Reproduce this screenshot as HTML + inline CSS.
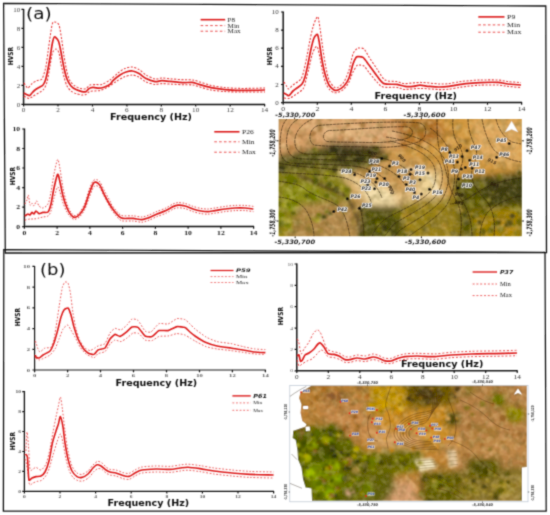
<!DOCTYPE html>
<html lang="en"><head><meta charset="utf-8"><title>HVSR curves</title>
<style>
html,body{margin:0;padding:0;background:#fff;}
body{width:550px;height:515px;overflow:hidden;font-family:"DejaVu Sans","Liberation Sans",sans-serif;}
svg{display:block;}
</style></head><body>
<svg width="550" height="515" viewBox="0 0 550 515">
<rect width="550" height="515" fill="#fff"/>

<defs>
<filter id="soft" x="0" y="0" width="550" height="515" filterUnits="userSpaceOnUse"><feConvolveMatrix order="3" kernelMatrix="1 4 1 4 16 4 1 4 1" divisor="36" edgeMode="duplicate" preserveAlpha="false"/></filter>
<filter id="sat" x="0" y="0" width="100%" height="100%"><feColorMatrix type="saturate" values="1.2"/></filter>
<filter id="bl1" x="-20%" y="-20%" width="140%" height="140%"><feGaussianBlur stdDeviation="0.9"/></filter>
<filter id="bl2" x="-20%" y="-20%" width="140%" height="140%"><feGaussianBlur stdDeviation="1.6"/></filter>
<filter id="bl4" x="-30%" y="-30%" width="160%" height="160%"><feGaussianBlur stdDeviation="3.5"/></filter>
<filter id="bl7" x="-40%" y="-40%" width="180%" height="180%"><feGaussianBlur stdDeviation="6"/></filter>
<filter id="noiseA" x="0" y="0" width="100%" height="100%">
<feTurbulence type="fractalNoise" baseFrequency="0.13" numOctaves="2" seed="7" result="n"/>
<feColorMatrix in="n" type="matrix" values="0 0 0 0 0.13  0 0 0 0 0.1  0 0 0 0 0.03  3 0 0 0 -1.25"/>
</filter>
<filter id="noiseB" x="0" y="0" width="100%" height="100%">
<feTurbulence type="fractalNoise" baseFrequency="0.16" numOctaves="2" seed="23" result="n"/>
<feColorMatrix in="n" type="matrix" values="0 0 0 0 1  0 0 0 0 0.84  0 0 0 0 0.5  0 3 0 0 -1.3"/>
</filter>
<filter id="noiseG" x="0" y="0" width="100%" height="100%">
<feTurbulence type="fractalNoise" baseFrequency="0.3" numOctaves="2" seed="11" result="n"/>
<feColorMatrix in="n" type="matrix" values="0 0 0 0 0.1  0 0 0 0 0.11  0 0 0 0 0.02  0 0 4 0 -1.7"/>
</filter>
<clipPath id="clipA"><rect x="278.6" y="119.1" width="243.2" height="117.2"/></clipPath>
<clipPath id="clipB"><path d="M311.2,385.7L526.8,385.7L526.8,467L522,467.4L522,500.8L312,500.8L311.4,488.4L305.5,487.5L303,479.3L301.4,467.8L298,459.6L297.3,449.8L295.6,440L292.6,438L293.2,430.7L305.5,426.6L306.3,424.2L302.2,421L300.5,412.7L301.4,404.5L299,398L300.5,392.3Z"/></clipPath>
</defs>

<g id="all" filter="url(#soft)">
<g id="mapA">
<g clip-path="url(#clipA)"><g filter="url(#sat)">
<rect x="278" y="119" width="245" height="118" fill="#c4955a"/>
<g filter="url(#bl4)">
<path d="M270,112H405V150L360,146L325,152L295,166L270,168Z" fill="#cfa074"/>
<path d="M300,124C330,118 380,122 400,132L400,146L330,142Z" fill="#dab088"/>
<path d="M400,112H530V178L470,172L440,165L405,160Z" fill="#ca9a5a"/>
<path d="M398,118L440,118L446,138L420,146L398,140Z" fill="#a87040"/>
<path d="M470,120L521,120L521,168L480,160Z" fill="#d8aa72"/>
<path d="M272,158C300,150 330,140 380,146L392,160L350,172L300,174L272,176Z" fill="#55532a"/>
<path d="M322,146C340,140 372,144 384,152L380,162L340,164Z" fill="#34321a"/>
<path d="M270,170L340,170L352,196L335,214L300,226L270,240Z" fill="#85803a"/>
<path d="M282,188L310,182L326,198L300,214L280,215Z" fill="#8f9040"/>
<path d="M270,215L300,212L296,240L270,240Z" fill="#94883e"/>
<path d="M340,170L360,174L380,186L402,192L420,170L442,168L444,198L424,204L386,207L362,202L350,188Z" fill="#dcbc8c"/>
<path d="M360,184L388,186L398,203L368,205Z" fill="#f2e0b8"/>
<path d="M372,158L420,158L422,186L396,188L378,178Z" fill="#c49a66"/>
<path d="M416,172L438,172L440,196L420,196Z" fill="#ecd4a4"/>
<path d="M300,204L360,200L364,240L286,240Z" fill="#a88656"/>
<path d="M318,212L350,208L352,232L316,236Z" fill="#b08c5e"/>
<path d="M360,206L402,206L414,240L358,240Z" fill="#4e4d22"/>
<path d="M402,202L462,196L472,240L404,240Z" fill="#94803a"/>
<path d="M452,180L530,170V240H462Z" fill="#5a5828"/>
<path d="M478,176L530,172L530,204L486,204Z" fill="#3b3a1b"/>
<path d="M470,212L521,208L521,240L476,240Z" fill="#a08438"/>
</g>
<g filter="url(#bl2)">
<path d="M298,175L346,196" stroke="#46341e" stroke-width="3" fill="none" opacity=".85"/>
<path d="M338,171L372,190" stroke="#e6cfa2" stroke-width="4" fill="none" opacity=".8"/>
<path d="M345,196C352,204 358,214 362,236" stroke="#4e3e26" stroke-width="2.8" fill="none" opacity=".8"/>
<path d="M402,170C420,166 436,176 438,196" stroke="#fff6e0" stroke-width="2.2" fill="none" opacity=".8"/>
<ellipse cx="336" cy="150" rx="7" ry="4" fill="#34331a"/>
<ellipse cx="358" cy="157" rx="6" ry="4" fill="#38361c"/>
<ellipse cx="372" cy="151" rx="5" ry="3.4" fill="#3a381c"/>
<ellipse cx="290" cy="180" rx="6" ry="5" fill="#6a7228"/>
<ellipse cx="312" cy="196" rx="7" ry="5" fill="#727a2c"/>
<ellipse cx="286" cy="222" rx="6" ry="6" fill="#a09a48"/>
<ellipse cx="380" cy="222" rx="9" ry="8" fill="#4a4a1e"/>
<ellipse cx="397" cy="214" rx="5" ry="5" fill="#6e6a2c"/>
<ellipse cx="500" cy="188" rx="12" ry="7" fill="#3c3a1a"/>
<ellipse cx="472" cy="200" rx="9" ry="6" fill="#54521f"/>
<ellipse cx="505" cy="226" rx="12" ry="7" fill="#b08a40"/>
<ellipse cx="440" cy="222" rx="10" ry="7" fill="#8e7c3c"/>
<ellipse cx="420" cy="128" rx="10" ry="5" fill="#94703c"/>
<ellipse cx="455" cy="140" rx="10" ry="6" fill="#d0a064"/>
<ellipse cx="345" cy="131" rx="18" ry="4" fill="#dcb48a"/>
</g>
<g filter="url(#bl1)" opacity=".85">
<ellipse cx="287.9" cy="225.3" rx="3.1" ry="2.5" fill="#6e742c"/><ellipse cx="334.3" cy="199.1" rx="2.4" ry="1.8" fill="#6e742c"/><ellipse cx="280.1" cy="224.5" rx="2.5" ry="2.5" fill="#4e5220"/><ellipse cx="329.5" cy="184.6" rx="3.2" ry="3.0" fill="#4e5220"/><ellipse cx="279.9" cy="203.9" rx="3.5" ry="3.0" fill="#5c6426"/><ellipse cx="317.0" cy="219.5" rx="3.5" ry="3.2" fill="#a4a04a"/><ellipse cx="295.1" cy="181.3" rx="2.5" ry="2.1" fill="#4e5220"/><ellipse cx="324.6" cy="216.7" rx="2.2" ry="2.2" fill="#3e421a"/><ellipse cx="313.5" cy="218.1" rx="2.4" ry="2.3" fill="#a4a04a"/><ellipse cx="318.6" cy="215.2" rx="2.9" ry="2.5" fill="#6e742c"/><ellipse cx="327.1" cy="173.6" rx="1.9" ry="2.0" fill="#a4a04a"/><ellipse cx="281.2" cy="215.2" rx="3.6" ry="3.3" fill="#6e742c"/><ellipse cx="325.9" cy="177.8" rx="2.1" ry="1.4" fill="#5c6426"/><ellipse cx="295.2" cy="202.0" rx="3.5" ry="3.3" fill="#6e742c"/><ellipse cx="323.1" cy="217.1" rx="2.4" ry="2.5" fill="#3e421a"/><ellipse cx="315.9" cy="175.0" rx="3.2" ry="2.5" fill="#4e5220"/><ellipse cx="313.6" cy="191.5" rx="2.7" ry="2.9" fill="#6e742c"/><ellipse cx="313.9" cy="191.0" rx="2.3" ry="2.1" fill="#93984a"/><ellipse cx="336.2" cy="189.2" rx="2.8" ry="2.9" fill="#3e421a"/><ellipse cx="291.1" cy="206.9" rx="3.3" ry="3.4" fill="#7c8434"/><ellipse cx="280.4" cy="232.0" rx="1.7" ry="1.8" fill="#6e742c"/><ellipse cx="279.1" cy="218.9" rx="2.1" ry="1.6" fill="#93984a"/><ellipse cx="291.7" cy="186.3" rx="1.9" ry="1.6" fill="#5c6426"/><ellipse cx="326.6" cy="211.4" rx="2.2" ry="2.1" fill="#6e742c"/><ellipse cx="306.6" cy="195.5" rx="2.0" ry="1.5" fill="#3e421a"/><ellipse cx="315.7" cy="180.6" rx="2.8" ry="2.9" fill="#4e5220"/><ellipse cx="294.7" cy="193.8" rx="1.7" ry="1.8" fill="#6e742c"/><ellipse cx="330.1" cy="213.5" rx="2.7" ry="2.1" fill="#3e421a"/><ellipse cx="337.0" cy="202.2" rx="2.0" ry="2.0" fill="#6e742c"/><ellipse cx="326.8" cy="195.8" rx="3.1" ry="2.3" fill="#5c6426"/><ellipse cx="342.8" cy="187.4" rx="3.3" ry="2.7" fill="#a4a04a"/><ellipse cx="333.0" cy="195.1" rx="2.1" ry="1.5" fill="#7c8434"/><ellipse cx="280.8" cy="223.4" rx="3.5" ry="3.3" fill="#5c6426"/><ellipse cx="335.7" cy="209.6" rx="1.7" ry="1.3" fill="#4e5220"/><ellipse cx="293.2" cy="213.2" rx="2.5" ry="1.9" fill="#4e5220"/><ellipse cx="347.4" cy="193.3" rx="2.6" ry="1.8" fill="#93984a"/><ellipse cx="279.3" cy="180.1" rx="2.3" ry="2.5" fill="#7c8434"/><ellipse cx="288.0" cy="196.0" rx="2.1" ry="1.6" fill="#6e742c"/><ellipse cx="347.0" cy="190.1" rx="3.4" ry="3.3" fill="#6e742c"/><ellipse cx="334.8" cy="203.3" rx="1.7" ry="1.2" fill="#5c6426"/><ellipse cx="290.6" cy="229.8" rx="2.0" ry="2.0" fill="#93984a"/><ellipse cx="315.4" cy="183.9" rx="2.3" ry="1.7" fill="#5c6426"/><ellipse cx="288.0" cy="204.6" rx="1.8" ry="1.3" fill="#4e5220"/><ellipse cx="288.9" cy="174.8" rx="1.8" ry="1.7" fill="#6e742c"/><ellipse cx="283.7" cy="204.5" rx="2.7" ry="3.0" fill="#a4a04a"/><ellipse cx="346.5" cy="198.0" rx="2.2" ry="2.2" fill="#7c8434"/>
<ellipse cx="353.3" cy="154.9" rx="2.8" ry="2.7" fill="#585626"/><ellipse cx="349.9" cy="169.3" rx="3.3" ry="3.0" fill="#6a682e"/><ellipse cx="339.4" cy="158.9" rx="2.1" ry="1.5" fill="#34321a"/><ellipse cx="379.8" cy="158.3" rx="3.4" ry="2.6" fill="#45441f"/><ellipse cx="315.1" cy="150.0" rx="2.6" ry="2.9" fill="#7a7434"/><ellipse cx="328.5" cy="158.0" rx="2.7" ry="2.8" fill="#6a682e"/><ellipse cx="366.7" cy="156.3" rx="3.6" ry="3.9" fill="#45441f"/><ellipse cx="385.0" cy="157.6" rx="3.1" ry="3.0" fill="#45441f"/><ellipse cx="334.6" cy="170.1" rx="2.3" ry="2.4" fill="#2c2a16"/><ellipse cx="317.9" cy="167.1" rx="2.7" ry="2.4" fill="#7a7434"/><ellipse cx="303.6" cy="155.4" rx="3.0" ry="2.3" fill="#585626"/><ellipse cx="308.8" cy="172.4" rx="2.2" ry="2.4" fill="#7a7434"/><ellipse cx="371.2" cy="162.3" rx="2.6" ry="2.5" fill="#2c2a16"/><ellipse cx="313.6" cy="152.0" rx="2.6" ry="2.8" fill="#585626"/><ellipse cx="290.8" cy="162.7" rx="1.7" ry="1.6" fill="#7a7434"/><ellipse cx="376.2" cy="149.1" rx="2.6" ry="2.8" fill="#45441f"/><ellipse cx="285.7" cy="172.0" rx="3.1" ry="2.3" fill="#6a682e"/><ellipse cx="298.1" cy="165.5" rx="1.8" ry="1.9" fill="#34321a"/><ellipse cx="283.5" cy="172.6" rx="2.3" ry="1.8" fill="#45441f"/><ellipse cx="360.6" cy="161.2" rx="1.6" ry="1.5" fill="#45441f"/><ellipse cx="317.2" cy="163.8" rx="3.1" ry="2.3" fill="#6a682e"/><ellipse cx="333.3" cy="154.9" rx="2.7" ry="2.5" fill="#34321a"/><ellipse cx="331.5" cy="152.5" rx="2.9" ry="2.4" fill="#34321a"/><ellipse cx="281.7" cy="168.9" rx="3.5" ry="3.2" fill="#2c2a16"/><ellipse cx="333.0" cy="155.5" rx="3.3" ry="2.8" fill="#6a682e"/><ellipse cx="346.3" cy="158.2" rx="1.6" ry="1.5" fill="#45441f"/><ellipse cx="353.4" cy="153.3" rx="1.9" ry="1.4" fill="#2c2a16"/><ellipse cx="349.5" cy="160.7" rx="3.6" ry="3.8" fill="#45441f"/><ellipse cx="304.8" cy="158.9" rx="2.1" ry="2.0" fill="#585626"/><ellipse cx="366.9" cy="164.1" rx="2.3" ry="2.3" fill="#6a682e"/><ellipse cx="282.9" cy="157.9" rx="1.8" ry="1.8" fill="#45441f"/><ellipse cx="362.3" cy="149.1" rx="1.6" ry="1.6" fill="#2c2a16"/><ellipse cx="313.4" cy="164.6" rx="2.0" ry="2.2" fill="#45441f"/><ellipse cx="359.9" cy="158.6" rx="2.6" ry="2.4" fill="#34321a"/>
<ellipse cx="369.8" cy="222.3" rx="2.3" ry="2.2" fill="#62622a"/><ellipse cx="404.6" cy="213.8" rx="2.1" ry="2.3" fill="#2e2e14"/><ellipse cx="387.4" cy="222.5" rx="2.4" ry="2.5" fill="#4c4c20"/><ellipse cx="392.8" cy="232.0" rx="2.6" ry="2.6" fill="#3a3a18"/><ellipse cx="365.2" cy="234.7" rx="1.7" ry="1.7" fill="#76742e"/><ellipse cx="383.4" cy="227.6" rx="3.4" ry="3.3" fill="#2e2e14"/><ellipse cx="378.9" cy="230.0" rx="2.5" ry="2.7" fill="#76742e"/><ellipse cx="361.7" cy="210.1" rx="2.0" ry="2.2" fill="#2e2e14"/><ellipse cx="401.2" cy="231.7" rx="2.4" ry="2.5" fill="#62622a"/><ellipse cx="376.4" cy="223.6" rx="2.8" ry="2.9" fill="#3a3a18"/><ellipse cx="405.7" cy="235.7" rx="2.9" ry="2.3" fill="#76742e"/><ellipse cx="411.9" cy="233.1" rx="2.7" ry="2.7" fill="#4c4c20"/><ellipse cx="392.7" cy="235.6" rx="2.1" ry="1.6" fill="#2e2e14"/><ellipse cx="405.5" cy="235.7" rx="1.8" ry="1.8" fill="#2e2e14"/><ellipse cx="380.8" cy="218.5" rx="1.8" ry="1.7" fill="#3a3a18"/><ellipse cx="377.9" cy="223.6" rx="2.7" ry="2.9" fill="#76742e"/><ellipse cx="385.3" cy="236.0" rx="2.2" ry="1.6" fill="#62622a"/><ellipse cx="387.1" cy="234.5" rx="3.5" ry="2.9" fill="#76742e"/><ellipse cx="365.1" cy="207.3" rx="3.3" ry="2.8" fill="#4c4c20"/><ellipse cx="382.7" cy="221.6" rx="2.9" ry="2.7" fill="#62622a"/><ellipse cx="361.9" cy="235.2" rx="3.2" ry="2.6" fill="#4c4c20"/><ellipse cx="371.0" cy="215.1" rx="2.3" ry="2.3" fill="#62622a"/>
<ellipse cx="480.5" cy="181.9" rx="1.7" ry="1.5" fill="#7c7634"/><ellipse cx="507.6" cy="221.0" rx="2.0" ry="1.9" fill="#7c7634"/><ellipse cx="506.2" cy="224.9" rx="2.1" ry="2.3" fill="#3a3a18"/><ellipse cx="509.5" cy="223.6" rx="3.2" ry="2.5" fill="#7c7634"/><ellipse cx="473.4" cy="227.5" rx="3.5" ry="3.7" fill="#7c7634"/><ellipse cx="459.8" cy="210.8" rx="2.9" ry="2.7" fill="#4c4a20"/><ellipse cx="470.6" cy="189.9" rx="3.5" ry="3.6" fill="#626028"/><ellipse cx="473.6" cy="217.1" rx="2.2" ry="2.2" fill="#4c4a20"/><ellipse cx="481.7" cy="210.3" rx="2.5" ry="1.9" fill="#7c7634"/><ellipse cx="471.4" cy="223.0" rx="1.8" ry="1.6" fill="#7c7634"/><ellipse cx="488.8" cy="213.5" rx="3.0" ry="2.3" fill="#8a8440"/><ellipse cx="467.1" cy="198.4" rx="2.0" ry="1.9" fill="#7c7634"/><ellipse cx="466.3" cy="199.9" rx="2.8" ry="2.6" fill="#4c4a20"/><ellipse cx="514.6" cy="178.5" rx="1.7" ry="1.4" fill="#55531f"/><ellipse cx="493.0" cy="227.2" rx="1.8" ry="2.0" fill="#7c7634"/><ellipse cx="500.7" cy="229.3" rx="3.5" ry="3.5" fill="#7c7634"/><ellipse cx="518.7" cy="221.6" rx="2.4" ry="2.6" fill="#626028"/><ellipse cx="499.6" cy="177.0" rx="2.8" ry="3.0" fill="#7c7634"/><ellipse cx="463.1" cy="196.4" rx="3.5" ry="2.9" fill="#3a3a18"/><ellipse cx="478.3" cy="201.1" rx="2.3" ry="2.4" fill="#7c7634"/><ellipse cx="492.3" cy="200.1" rx="2.0" ry="2.1" fill="#3a3a18"/><ellipse cx="465.3" cy="215.3" rx="1.9" ry="1.4" fill="#2c2c14"/><ellipse cx="493.0" cy="192.6" rx="1.7" ry="1.7" fill="#7c7634"/><ellipse cx="505.8" cy="198.2" rx="3.6" ry="3.2" fill="#4c4a20"/><ellipse cx="483.4" cy="203.5" rx="2.0" ry="1.8" fill="#8a8440"/><ellipse cx="513.6" cy="225.2" rx="2.6" ry="1.9" fill="#7c7634"/><ellipse cx="471.0" cy="205.6" rx="3.1" ry="2.7" fill="#7c7634"/><ellipse cx="516.2" cy="208.2" rx="3.6" ry="3.1" fill="#8a8440"/><ellipse cx="497.8" cy="222.6" rx="3.1" ry="2.8" fill="#3a3a18"/><ellipse cx="482.8" cy="231.5" rx="2.7" ry="3.0" fill="#4c4a20"/><ellipse cx="476.6" cy="214.0" rx="3.2" ry="3.1" fill="#55531f"/><ellipse cx="482.1" cy="185.8" rx="3.2" ry="3.3" fill="#7c7634"/><ellipse cx="515.8" cy="233.2" rx="1.7" ry="1.9" fill="#8a8440"/><ellipse cx="514.2" cy="180.2" rx="3.5" ry="3.4" fill="#3a3a18"/><ellipse cx="512.3" cy="216.0" rx="2.5" ry="2.2" fill="#2c2c14"/><ellipse cx="516.1" cy="186.0" rx="1.6" ry="1.7" fill="#3a3a18"/><ellipse cx="494.9" cy="188.5" rx="2.4" ry="2.4" fill="#2c2c14"/><ellipse cx="512.8" cy="207.2" rx="3.4" ry="2.6" fill="#8a8440"/><ellipse cx="494.8" cy="224.4" rx="2.7" ry="2.8" fill="#626028"/><ellipse cx="500.6" cy="179.2" rx="2.7" ry="2.2" fill="#55531f"/><ellipse cx="463.3" cy="195.2" rx="3.1" ry="2.9" fill="#3a3a18"/><ellipse cx="473.9" cy="194.2" rx="1.7" ry="1.9" fill="#2c2c14"/><ellipse cx="479.5" cy="222.4" rx="2.2" ry="1.8" fill="#2c2c14"/><ellipse cx="511.3" cy="197.6" rx="1.8" ry="1.9" fill="#55531f"/><ellipse cx="513.3" cy="204.8" rx="2.5" ry="2.6" fill="#55531f"/><ellipse cx="483.8" cy="212.2" rx="3.5" ry="3.3" fill="#55531f"/><ellipse cx="486.1" cy="179.6" rx="2.7" ry="2.3" fill="#4c4a20"/><ellipse cx="465.8" cy="181.6" rx="2.6" ry="2.2" fill="#626028"/><ellipse cx="519.2" cy="172.3" rx="1.9" ry="1.9" fill="#3a3a18"/><ellipse cx="490.5" cy="203.1" rx="3.0" ry="2.7" fill="#3a3a18"/><ellipse cx="488.9" cy="198.3" rx="2.2" ry="1.7" fill="#4c4a20"/><ellipse cx="520.0" cy="212.1" rx="3.0" ry="2.8" fill="#7c7634"/><ellipse cx="490.5" cy="230.2" rx="3.2" ry="2.9" fill="#55531f"/><ellipse cx="487.9" cy="200.2" rx="2.8" ry="2.4" fill="#7c7634"/><ellipse cx="505.7" cy="195.2" rx="2.9" ry="2.2" fill="#3a3a18"/><ellipse cx="494.6" cy="215.2" rx="2.8" ry="2.3" fill="#7c7634"/><ellipse cx="467.2" cy="222.8" rx="2.9" ry="3.1" fill="#3a3a18"/><ellipse cx="481.0" cy="231.9" rx="2.0" ry="1.9" fill="#7c7634"/><ellipse cx="465.7" cy="228.5" rx="2.8" ry="2.6" fill="#55531f"/><ellipse cx="509.6" cy="223.3" rx="3.2" ry="3.5" fill="#4c4a20"/>
<ellipse cx="444.4" cy="226.2" rx="3.2" ry="3.4" fill="#a88a4a"/><ellipse cx="404.0" cy="215.7" rx="3.5" ry="3.3" fill="#b0944c"/><ellipse cx="409.7" cy="215.8" rx="2.1" ry="1.9" fill="#a88a4a"/><ellipse cx="419.0" cy="225.8" rx="2.4" ry="1.9" fill="#8e7e3e"/><ellipse cx="412.9" cy="228.3" rx="1.9" ry="1.8" fill="#b0944c"/><ellipse cx="411.0" cy="234.9" rx="1.6" ry="1.6" fill="#b0944c"/><ellipse cx="461.3" cy="209.0" rx="3.5" ry="3.2" fill="#b0944c"/><ellipse cx="414.4" cy="234.8" rx="2.0" ry="2.2" fill="#8e7e3e"/><ellipse cx="422.3" cy="211.7" rx="1.9" ry="1.5" fill="#7a6c34"/><ellipse cx="424.6" cy="229.1" rx="2.8" ry="2.6" fill="#6a6230"/><ellipse cx="406.5" cy="211.5" rx="2.2" ry="2.2" fill="#b0944c"/><ellipse cx="434.7" cy="224.8" rx="1.7" ry="1.9" fill="#7a6c34"/><ellipse cx="429.5" cy="218.9" rx="2.4" ry="2.1" fill="#7a6c34"/><ellipse cx="432.8" cy="224.9" rx="2.8" ry="3.1" fill="#7a6c34"/><ellipse cx="453.4" cy="233.3" rx="3.5" ry="2.9" fill="#6a6230"/><ellipse cx="462.7" cy="207.5" rx="2.5" ry="2.4" fill="#6a6230"/><ellipse cx="460.5" cy="199.4" rx="3.5" ry="2.6" fill="#6a6230"/><ellipse cx="436.9" cy="211.8" rx="1.9" ry="1.5" fill="#a88a4a"/><ellipse cx="408.3" cy="224.1" rx="2.2" ry="2.3" fill="#b0944c"/><ellipse cx="451.0" cy="209.8" rx="2.6" ry="2.5" fill="#7a6c34"/><ellipse cx="429.6" cy="207.0" rx="2.8" ry="2.9" fill="#8e7e3e"/><ellipse cx="446.3" cy="203.5" rx="3.6" ry="3.4" fill="#8e7e3e"/><ellipse cx="424.7" cy="205.9" rx="3.6" ry="3.3" fill="#b0944c"/><ellipse cx="444.9" cy="227.9" rx="1.8" ry="1.6" fill="#b0944c"/><ellipse cx="406.0" cy="214.0" rx="1.9" ry="2.0" fill="#a88a4a"/><ellipse cx="460.0" cy="235.1" rx="2.5" ry="2.2" fill="#6a6230"/>
<ellipse cx="345.1" cy="229.9" rx="2.6" ry="2.1" fill="#9a7a4c"/><ellipse cx="298.5" cy="221.9" rx="3.5" ry="3.5" fill="#8c7844"/><ellipse cx="343.5" cy="211.3" rx="3.2" ry="3.2" fill="#a0884e"/><ellipse cx="353.6" cy="220.3" rx="1.8" ry="1.7" fill="#8c7844"/><ellipse cx="335.7" cy="222.7" rx="1.8" ry="1.5" fill="#9a7a4c"/><ellipse cx="314.1" cy="215.9" rx="2.1" ry="2.1" fill="#b89460"/><ellipse cx="338.5" cy="229.1" rx="1.8" ry="1.3" fill="#b89460"/><ellipse cx="347.6" cy="233.0" rx="2.6" ry="2.7" fill="#b89460"/><ellipse cx="325.1" cy="223.9" rx="3.0" ry="3.1" fill="#9a7a4c"/><ellipse cx="333.6" cy="210.3" rx="2.5" ry="2.1" fill="#9a7a4c"/><ellipse cx="294.5" cy="231.9" rx="2.7" ry="2.0" fill="#8c7844"/><ellipse cx="310.5" cy="208.7" rx="2.6" ry="1.9" fill="#b89460"/><ellipse cx="348.0" cy="231.8" rx="2.6" ry="2.1" fill="#b89460"/><ellipse cx="353.1" cy="223.1" rx="2.2" ry="1.9" fill="#a0884e"/><ellipse cx="308.8" cy="225.1" rx="2.6" ry="2.0" fill="#a0884e"/><ellipse cx="346.0" cy="205.0" rx="2.8" ry="2.9" fill="#a0884e"/><ellipse cx="320.2" cy="230.3" rx="3.2" ry="2.9" fill="#a0884e"/><ellipse cx="309.8" cy="229.8" rx="3.5" ry="2.7" fill="#8c7844"/><ellipse cx="320.5" cy="226.6" rx="3.5" ry="2.5" fill="#9a7a4c"/><ellipse cx="306.1" cy="229.3" rx="2.0" ry="1.8" fill="#8c7844"/><ellipse cx="354.8" cy="210.7" rx="2.4" ry="2.5" fill="#a0884e"/><ellipse cx="307.3" cy="218.1" rx="2.6" ry="1.9" fill="#a0884e"/>
<ellipse cx="421.3" cy="125.9" rx="2.9" ry="2.1" fill="#dcb07c"/><ellipse cx="404.8" cy="145.8" rx="3.4" ry="2.7" fill="#b07c48"/><ellipse cx="429.2" cy="122.2" rx="1.8" ry="1.5" fill="#dcb07c"/><ellipse cx="406.9" cy="129.3" rx="2.9" ry="3.1" fill="#dcb07c"/><ellipse cx="440.2" cy="121.3" rx="2.0" ry="1.9" fill="#d8a86c"/><ellipse cx="418.9" cy="125.6" rx="1.8" ry="1.5" fill="#94703e"/><ellipse cx="411.0" cy="145.8" rx="2.9" ry="2.4" fill="#dcb07c"/><ellipse cx="449.3" cy="145.0" rx="2.8" ry="2.6" fill="#dcb07c"/><ellipse cx="428.8" cy="133.5" rx="2.8" ry="2.4" fill="#a06e40"/><ellipse cx="415.9" cy="127.3" rx="3.2" ry="2.3" fill="#a06e40"/><ellipse cx="450.5" cy="132.2" rx="3.6" ry="2.7" fill="#c48e54"/><ellipse cx="409.9" cy="134.7" rx="3.5" ry="3.0" fill="#94703e"/><ellipse cx="403.6" cy="144.7" rx="3.2" ry="3.3" fill="#a06e40"/><ellipse cx="448.1" cy="146.3" rx="2.8" ry="2.4" fill="#b07c48"/><ellipse cx="466.0" cy="140.8" rx="2.9" ry="2.1" fill="#94703e"/><ellipse cx="420.3" cy="145.6" rx="3.0" ry="2.6" fill="#94703e"/><ellipse cx="425.8" cy="149.8" rx="1.6" ry="1.5" fill="#d8a86c"/><ellipse cx="442.0" cy="141.7" rx="2.0" ry="1.7" fill="#94703e"/><ellipse cx="415.8" cy="137.0" rx="3.3" ry="2.4" fill="#c48e54"/><ellipse cx="426.9" cy="131.8" rx="1.9" ry="1.6" fill="#dcb07c"/><ellipse cx="418.0" cy="138.1" rx="2.3" ry="2.4" fill="#d8a86c"/><ellipse cx="408.9" cy="127.1" rx="2.1" ry="1.6" fill="#c48e54"/><ellipse cx="457.8" cy="127.4" rx="2.2" ry="1.6" fill="#dcb07c"/><ellipse cx="424.6" cy="145.1" rx="3.5" ry="3.4" fill="#dcb07c"/><ellipse cx="466.4" cy="149.1" rx="3.1" ry="2.7" fill="#94703e"/><ellipse cx="455.4" cy="137.0" rx="2.4" ry="1.8" fill="#94703e"/><ellipse cx="426.8" cy="127.8" rx="3.6" ry="3.1" fill="#b07c48"/><ellipse cx="422.5" cy="121.4" rx="1.6" ry="1.2" fill="#b07c48"/><ellipse cx="466.3" cy="147.2" rx="1.7" ry="1.4" fill="#c48e54"/><ellipse cx="408.7" cy="130.6" rx="2.3" ry="1.9" fill="#b07c48"/>
<ellipse cx="294.0" cy="147.9" rx="1.8" ry="1.4" fill="#d8ae84"/><ellipse cx="326.7" cy="120.2" rx="2.6" ry="2.2" fill="#d8ae84"/><ellipse cx="385.8" cy="135.5" rx="2.6" ry="2.6" fill="#c49268"/><ellipse cx="340.9" cy="138.4" rx="3.4" ry="3.4" fill="#c49268"/><ellipse cx="290.6" cy="152.4" rx="2.4" ry="2.4" fill="#b88458"/><ellipse cx="357.6" cy="132.9" rx="3.0" ry="2.7" fill="#d8ae84"/><ellipse cx="348.2" cy="124.8" rx="1.7" ry="1.9" fill="#a87a50"/><ellipse cx="362.5" cy="125.1" rx="3.3" ry="2.9" fill="#a87a50"/><ellipse cx="313.0" cy="133.6" rx="3.4" ry="2.5" fill="#b88458"/><ellipse cx="342.3" cy="131.9" rx="2.3" ry="2.2" fill="#a87a50"/><ellipse cx="338.9" cy="127.1" rx="1.9" ry="1.7" fill="#b88458"/><ellipse cx="387.7" cy="141.3" rx="2.3" ry="2.4" fill="#c49268"/><ellipse cx="319.8" cy="129.9" rx="2.4" ry="2.1" fill="#a87a50"/><ellipse cx="299.9" cy="135.2" rx="1.9" ry="1.9" fill="#b88458"/><ellipse cx="303.0" cy="150.4" rx="2.2" ry="1.6" fill="#a87a50"/><ellipse cx="319.7" cy="126.0" rx="2.5" ry="2.0" fill="#a87a50"/><ellipse cx="346.1" cy="135.7" rx="1.8" ry="1.3" fill="#b88458"/><ellipse cx="283.0" cy="146.2" rx="3.1" ry="2.8" fill="#d8ae84"/><ellipse cx="375.1" cy="139.7" rx="3.0" ry="3.3" fill="#b88458"/><ellipse cx="319.6" cy="146.0" rx="1.8" ry="1.5" fill="#c49268"/><ellipse cx="393.8" cy="119.1" rx="3.3" ry="2.6" fill="#b88458"/><ellipse cx="299.5" cy="132.8" rx="2.5" ry="1.8" fill="#d8ae84"/><ellipse cx="351.0" cy="139.4" rx="2.5" ry="1.9" fill="#b88458"/><ellipse cx="291.9" cy="148.6" rx="2.9" ry="2.9" fill="#b88458"/><ellipse cx="364.1" cy="138.3" rx="2.4" ry="2.0" fill="#d8ae84"/><ellipse cx="285.1" cy="121.0" rx="1.8" ry="1.4" fill="#b88458"/>
</g>
<rect x="278" y="119" width="245" height="118" filter="url(#noiseA)" opacity=".3"/>
<rect x="278" y="119" width="245" height="118" filter="url(#noiseB)" opacity=".2"/>
<g fill="none" stroke="#2a1c0e" stroke-width=".9" opacity=".72" stroke-dasharray="3 .6">
<path d="M329,130.5C322,132 322,140 327,141.5C340,142.5 355,142 366,142.5C380,143 396,142 408,138C414,135 414,129 408,127C395,125.6 350,130 329,130.5"/>
<path d="M318,125.5C308,129 308,142 314,145C330,147 350,146.4 366,147C384,148 404,147 418,142C428,138 428,126 420,123C400,120.6 340,123.6 318,125.5"/>
<path d="M312.6,119C302,124 296,130 294.8,140C294.6,150 299,153 306,154C325,155 350,154 372,156C392,159 404,166 414,176"/>
<path d="M298,119C290,124 286.8,130 286.5,142C287,153 291,157.5 298,158.6C320,160 345,159.4 366,162C386,166 398,174 406,186"/>
<path d="M287,119C281.6,124 280.2,134 280,146C280.4,156 283,161.6 290,163C312,164.6 340,164 360,167C378,171 388,180 394,192"/>
<path d="M278,163C295,167 330,168 352,172C368,176 378,186 382,198"/>
<path d="M278,172C300,174 325,174 345,178C360,183 370,193 372,206"/>
<path d="M278,181C290,183 300,184 306,190C318,198 330,200 338,206C346,214 348,226 350,237"/>
<path d="M278,197C290,198 300,202 306,210C312,220 314,230 314,237"/>
<path d="M390,141C410,146 425,152 433,164C438,174 436,186 428,194C418,203 402,210 390,216C380,222 374,230 372,237"/>
<path d="M386,137C412,141 430,148 439,162C445,174 443,188 434,198C424,208 406,216 394,224L384,237"/>
<path d="M392,131C416,136 436,143 445,160C451,174 449,190 440,202C430,213 412,222 400,230L394,237"/>
<path d="M430,128C442,136 448,146 452,158C457,174 455,192 446,206C437,218 420,228 408,237"/>
<path d="M437,119C437,130 437,140 440,152C443,162 446,170 448,180C450,190 454,196 458,204C462,214 462,226 460,237"/>
<path d="M453,119C452,130 454,138 458,144C462,150 464,156 462,164C458,174 454,184 458,194C464,204 472,214 472,237"/>
<path d="M468,119C468,130 472,140 476,148C478,156 474,164 472,170C470,180 476,190 484,198C492,206 496,220 494,237"/>
<path d="M482,119C484,130 488,142 494,150C500,156 510,160 521,162"/>
<path d="M496,119C498,128 504,138 512,142L521,144"/>
<path d="M521,178C505,180 490,184 478,192C466,200 458,204 450,204"/>
<path d="M521,196C508,198 496,204 488,212C482,220 480,230 480,237"/>
<path d="M360,206C362,216 364,226 364,237"/>
</g>
</g></g>
<path d="M511.6,121.2L518,132L511.6,129.2L505.2,132Z" fill="#fff" stroke="#ddd" stroke-width=".3"/>
<g font-family="'DejaVu Sans','Liberation Sans',sans-serif" font-style="italic" font-weight="bold" font-size="4.7" text-anchor="middle">
<circle cx="381.8" cy="158.5" r="1.5" fill="#0a0a0a"/>
<circle cx="389.5" cy="166.1" r="1.5" fill="#0a0a0a"/>
<circle cx="369.6" cy="171.6" r="1.5" fill="#0a0a0a"/>
<circle cx="399" cy="176.5" r="1.5" fill="#0a0a0a"/>
<circle cx="354.7" cy="174.8" r="1.5" fill="#0a0a0a"/>
<circle cx="377" cy="178.4" r="1.5" fill="#0a0a0a"/>
<circle cx="384.6" cy="178.4" r="1.5" fill="#0a0a0a"/>
<circle cx="375.9" cy="182" r="1.5" fill="#0a0a0a"/>
<circle cx="367.7" cy="184.6" r="1.5" fill="#0a0a0a"/>
<circle cx="374.5" cy="188.7" r="1.5" fill="#0a0a0a"/>
<circle cx="347.3" cy="198.8" r="1.5" fill="#0a0a0a"/>
<circle cx="359.3" cy="208.3" r="1.5" fill="#0a0a0a"/>
<circle cx="333.8" cy="211.5" r="1.5" fill="#0a0a0a"/>
<circle cx="406.3" cy="184.6" r="1.5" fill="#0a0a0a"/>
<circle cx="509.1" cy="143.6" r="1.5" fill="#0a0a0a"/>
<circle cx="467" cy="150.7" r="1.5" fill="#0a0a0a"/>
<circle cx="449.8" cy="152.6" r="1.5" fill="#0a0a0a"/>
<circle cx="496.6" cy="157.2" r="1.5" fill="#0a0a0a"/>
<circle cx="462.1" cy="156.6" r="1.5" fill="#0a0a0a"/>
<circle cx="469.7" cy="160.2" r="1.5" fill="#0a0a0a"/>
<circle cx="457.4" cy="162.1" r="1.5" fill="#0a0a0a"/>
<circle cx="465.3" cy="167.5" r="1.5" fill="#0a0a0a"/>
<circle cx="461.3" cy="168.9" r="1.5" fill="#0a0a0a"/>
<circle cx="472.1" cy="168" r="1.5" fill="#0a0a0a"/>
<circle cx="458.5" cy="178.9" r="1.5" fill="#0a0a0a"/>
<circle cx="458" cy="187.9" r="1.5" fill="#0a0a0a"/>
<circle cx="411" cy="169.4" r="1.5" fill="#0a0a0a"/>
<circle cx="428" cy="173" r="1.5" fill="#0a0a0a"/>
<circle cx="410" cy="174.3" r="1.5" fill="#0a0a0a"/>
<circle cx="420" cy="179.7" r="1.5" fill="#0a0a0a"/>
<circle cx="414.5" cy="192.5" r="1.5" fill="#0a0a0a"/>
<circle cx="429.5" cy="189.2" r="1.5" fill="#0a0a0a"/>
<circle cx="421.3" cy="194.1" r="1.5" fill="#0a0a0a"/>
<text x="374.2" y="163.0" fill="#1a1a1a" stroke="#fff" stroke-width="1.5" stroke-linejoin="round" paint-order="stroke" stroke-opacity=".9">P38</text>
<text x="395.4" y="165.1" fill="#1a1a1a" stroke="#fff" stroke-width="1.5" stroke-linejoin="round" paint-order="stroke" stroke-opacity=".9">P3</text>
<text x="376.4" y="171.1" fill="#1a1a1a" stroke="#fff" stroke-width="1.5" stroke-linejoin="round" paint-order="stroke" stroke-opacity=".9">P21</text>
<text x="402.2" y="173.3" fill="#1a1a1a" stroke="#fff" stroke-width="1.5" stroke-linejoin="round" paint-order="stroke" stroke-opacity=".9">P18</text>
<text x="346.5" y="173.3" fill="#1a1a1a" stroke="#fff" stroke-width="1.5" stroke-linejoin="round" paint-order="stroke" stroke-opacity=".9">P24</text>
<text x="371" y="177.4" fill="#1a1a1a" stroke="#fff" stroke-width="1.5" stroke-linejoin="round" paint-order="stroke" stroke-opacity=".9">P19</text>
<text x="365.5" y="182.7" fill="#1a1a1a" stroke="#fff" stroke-width="1.5" stroke-linejoin="round" paint-order="stroke" stroke-opacity=".9">P23</text>
<text x="383.7" y="186.3" fill="#1a1a1a" stroke="#fff" stroke-width="1.5" stroke-linejoin="round" paint-order="stroke" stroke-opacity=".9">P20</text>
<text x="366.4" y="190.4" fill="#1a1a1a" stroke="#fff" stroke-width="1.5" stroke-linejoin="round" paint-order="stroke" stroke-opacity=".9">P22</text>
<text x="355.5" y="197.7" fill="#1a1a1a" stroke="#fff" stroke-width="1.5" stroke-linejoin="round" paint-order="stroke" stroke-opacity=".9">P26</text>
<text x="366.9" y="207.2" fill="#1a1a1a" stroke="#fff" stroke-width="1.5" stroke-linejoin="round" paint-order="stroke" stroke-opacity=".9">P25</text>
<text x="342.4" y="210.5" fill="#1a1a1a" stroke="#fff" stroke-width="1.5" stroke-linejoin="round" paint-order="stroke" stroke-opacity=".9">P42</text>
<text x="406.4" y="180.1" fill="#1a1a1a" stroke="#fff" stroke-width="1.5" stroke-linejoin="round" paint-order="stroke" stroke-opacity=".9">P2</text>
<text x="501.5" y="142.0" fill="#1a1a1a" stroke="#fff" stroke-width="1.5" stroke-linejoin="round" paint-order="stroke" stroke-opacity=".9">P45</text>
<text x="475.7" y="149.4" fill="#1a1a1a" stroke="#fff" stroke-width="1.5" stroke-linejoin="round" paint-order="stroke" stroke-opacity=".9">P47</text>
<text x="444.4" y="151.0" fill="#1a1a1a" stroke="#fff" stroke-width="1.5" stroke-linejoin="round" paint-order="stroke" stroke-opacity=".9">P8</text>
<text x="504.2" y="156.2" fill="#1a1a1a" stroke="#fff" stroke-width="1.5" stroke-linejoin="round" paint-order="stroke" stroke-opacity=".9">P46</text>
<text x="453.9" y="158.3" fill="#1a1a1a" stroke="#fff" stroke-width="1.5" stroke-linejoin="round" paint-order="stroke" stroke-opacity=".9">P13</text>
<text x="477.8" y="158.9" fill="#1a1a1a" stroke="#fff" stroke-width="1.5" stroke-linejoin="round" paint-order="stroke" stroke-opacity=".9">P14</text>
<text x="449.8" y="163.2" fill="#1a1a1a" stroke="#fff" stroke-width="1.5" stroke-linejoin="round" paint-order="stroke" stroke-opacity=".9">P41</text>
<text x="474.3" y="165.7" fill="#1a1a1a" stroke="#fff" stroke-width="1.5" stroke-linejoin="round" paint-order="stroke" stroke-opacity=".9">P11</text>
<text x="479.7" y="172.5" fill="#1a1a1a" stroke="#fff" stroke-width="1.5" stroke-linejoin="round" paint-order="stroke" stroke-opacity=".9">P12</text>
<text x="454.7" y="173.3" fill="#1a1a1a" stroke="#fff" stroke-width="1.5" stroke-linejoin="round" paint-order="stroke" stroke-opacity=".9">P9</text>
<text x="467.5" y="177.9" fill="#1a1a1a" stroke="#fff" stroke-width="1.5" stroke-linejoin="round" paint-order="stroke" stroke-opacity=".9">P39</text>
<text x="467" y="186.9" fill="#1a1a1a" stroke="#fff" stroke-width="1.5" stroke-linejoin="round" paint-order="stroke" stroke-opacity=".9">P10</text>
<text x="420" y="168.7" fill="#1a1a1a" stroke="#fff" stroke-width="1.5" stroke-linejoin="round" paint-order="stroke" stroke-opacity=".9">P19</text>
<text x="420" y="174.7" fill="#1a1a1a" stroke="#fff" stroke-width="1.5" stroke-linejoin="round" paint-order="stroke" stroke-opacity=".9">P15</text>
<text x="412.6" y="183.6" fill="#1a1a1a" stroke="#fff" stroke-width="1.5" stroke-linejoin="round" paint-order="stroke" stroke-opacity=".9">P3</text>
<text x="410.4" y="190.9" fill="#1a1a1a" stroke="#fff" stroke-width="1.5" stroke-linejoin="round" paint-order="stroke" stroke-opacity=".9">P40</text>
<text x="437.6" y="193.7" fill="#1a1a1a" stroke="#fff" stroke-width="1.5" stroke-linejoin="round" paint-order="stroke" stroke-opacity=".9">P16</text>
<text x="415.9" y="199.1" fill="#1a1a1a" stroke="#fff" stroke-width="1.5" stroke-linejoin="round" paint-order="stroke" stroke-opacity=".9">P4</text>
<text transform="translate(458,147.7) rotate(-40)" y="1.6" fill="#2a1c10" font-size="4.4" font-weight="bold">910</text>
<text transform="translate(492,161.3) rotate(25)" y="1.6" fill="#2a1c10" font-size="4.4" font-weight="bold">915</text>
<text transform="translate(459,194.7) rotate(10)" y="1.6" fill="#2a1c10" font-size="4.4" font-weight="bold">900</text>
<text transform="translate(459,202.8) rotate(10)" y="1.6" fill="#2a1c10" font-size="4.4" font-weight="bold">895</text>
<text transform="translate(494.7,184.6) rotate(20)" y="1.6" fill="#2a1c10" font-size="4.4" font-weight="bold">905</text>
<text transform="translate(402,158) rotate(50)" y="1.6" fill="#2a1c10" font-size="4.4" font-weight="bold">905</text>
<text transform="translate(372.3,153.1) rotate(8)" y="1.6" fill="#2a1c10" font-size="4.4" font-weight="bold">900</text>
<text transform="translate(391,190) rotate(70)" y="1.6" fill="#2a1c10" font-size="4.4" font-weight="bold">900</text>
</g>
<g font-family="'DejaVu Sans','Liberation Sans',sans-serif" font-style="italic" font-weight="bold" font-size="6" fill="#222">
<text x="275.3" y="117.3" textLength="40" lengthAdjust="spacingAndGlyphs">-5,330,700</text>
<text x="403.5" y="116.6" textLength="42" lengthAdjust="spacingAndGlyphs">-5,330,600</text>
<text x="274.5" y="244" textLength="40.6" lengthAdjust="spacingAndGlyphs">-5,330,700</text>
<text x="405" y="244" textLength="41" lengthAdjust="spacingAndGlyphs">-5,330,600</text>
</g>
<g font-family="'DejaVu Sans Condensed','DejaVu Sans','Liberation Sans',sans-serif" font-weight="bold" font-style="italic" font-size="5.6" fill="#1a1a1a" text-anchor="middle">
<text transform="translate(275.2,143) rotate(-90) scale(1,1.32)" textLength="27" lengthAdjust="spacingAndGlyphs">-1,758,200</text>
<text transform="translate(275.2,223) rotate(-90) scale(1,1.32)" textLength="27" lengthAdjust="spacingAndGlyphs">-1,758,300</text>
<text transform="translate(531.6,140.8) rotate(-90) scale(1,1.32)" textLength="27" lengthAdjust="spacingAndGlyphs">-1,758,200</text>
<text transform="translate(531.6,222.8) rotate(-90) scale(1,1.32)" textLength="27" lengthAdjust="spacingAndGlyphs">-1,758,300</text>
</g>
<path d="M294.6,117.4v1.8M421.4,117.4v1.8M295.2,236.3v1.8M421.4,236.3v1.8M276.6,140.8h2M276.6,221h2M521.8,140.8h2M521.8,221h2" stroke="#111" stroke-width="1"/>
</g>
<g id="mapB">
<rect x="289.8" y="385.6" width="238.2" height="116.2" fill="#fff" stroke="#b8c4d0" stroke-width=".7"/>
<g fill="none" stroke="#3a2e22" stroke-width=".5" opacity=".8"><path d="M290,396.4C296,392 301,389 306.3,386.5"/><path d="M291.5,454L297,459.6"/><path d="M290,483.4L302,488.3"/></g>
<g clip-path="url(#clipB)"><g filter="url(#sat)">
<rect x="289" y="385" width="240" height="117" fill="#b8844c"/>
<g filter="url(#bl4)">
<path d="M290,380H372V432L340,430L300,428L290,430Z" fill="#b4824e"/>
<path d="M318,404L372,402L384,432L352,444L326,426Z" fill="#be8a5c"/>
<path d="M322,392L350,392L352,400L324,402Z" fill="#8e6640"/>
<path d="M366,380H412L408,408L388,416L366,412Z" fill="#ba9242"/>
<path d="M350,386L372,384L372,404L352,402Z" fill="#ae8450"/>
<path d="M404,380H458V404L430,412L408,408Z" fill="#735e28"/>
<path d="M412,386L440,386L436,404L416,402Z" fill="#51421d"/>
<path d="M378,412L456,406L462,450L380,452Z" fill="#c8924e"/>
<path d="M372,430L420,432L422,452L374,452Z" fill="#cfa070"/>
<path d="M455,380H530V470H455Z" fill="#b08256"/>
<path d="M463,386L474,386L474,394L462,394Z" fill="#6f6a28"/>
<path d="M490,392L505,392L506,408L492,406Z" fill="#7a7430"/>
<path d="M505,406L524,408L524,422L508,422Z" fill="#8b8428"/>
<path d="M444,412L461,412L460,425L445,425Z" fill="#5d5424"/>
<path d="M470,424L500,424L500,440L470,440Z" fill="#a47c4c"/>
<path d="M288,428L336,424L350,440L366,454L373,470L360,482L346,490L340,505L300,505L288,470Z" fill="#5c6220"/>
<path d="M300,440L330,436L340,456L310,462Z" fill="#434a18"/>
<path d="M305,466L335,462L340,486L316,494Z" fill="#76882a"/>
<path d="M336,450L362,456L366,474L344,476Z" fill="#5e5c24"/>
<path d="M360,454L400,448L424,452L420,470L390,476L362,476Z" fill="#77762e"/>
<path d="M380,456L412,452L414,464L384,468Z" fill="#55541f"/>
<path d="M378,482L414,480L420,505H372Z" fill="#d2a27e"/>
<path d="M346,470L392,470L396,488L384,505H340Z" fill="#5e5e26"/>
<path d="M424,472L530,466V505H420Z" fill="#82703a"/>
<path d="M466,458L500,458L500,478L468,478Z" fill="#58561f"/>
<path d="M424,474L460,474L458,505L424,505Z" fill="#5e5c24"/>
<path d="M494,478L526,474L526,505L496,505Z" fill="#96804a"/>
<path d="M440,440L527,438L527,458L440,456Z" fill="#b88a5a"/>
</g>
<g filter="url(#bl2)">
<path d="M414,459.6L432,458L437,468L420,472Z" fill="#efe4c4"/>
<path d="M447,450L456,450L458,466L449,468Z" fill="#e6cfae"/>
<path d="M420.6,471L423,497" stroke="#4a3c22" stroke-width="1.6" fill="none" opacity=".8"/>
<ellipse cx="300" cy="436" rx="5" ry="4" fill="#4c5a1c"/>
<ellipse cx="312" cy="446" rx="6" ry="5" fill="#8a9a30"/>
<ellipse cx="326" cy="440" rx="5" ry="4" fill="#a0a438"/>
<ellipse cx="320" cy="456" rx="6" ry="5" fill="#4a5418"/>
<ellipse cx="334" cy="466" rx="6" ry="5" fill="#96aa34"/>
<ellipse cx="310" cy="474" rx="6" ry="5" fill="#9cb838"/>
<ellipse cx="322" cy="484" rx="6" ry="5" fill="#5a6c20"/>
<ellipse cx="348" cy="462" rx="5" ry="4" fill="#8c5c34"/>
<ellipse cx="356" cy="470" rx="5" ry="4" fill="#a08850"/>
<ellipse cx="340" cy="478" rx="5" ry="4" fill="#86a030"/>
<ellipse cx="330" cy="494" rx="6" ry="5" fill="#8aa838"/>
<ellipse cx="350" cy="492" rx="5" ry="4" fill="#c09880"/>
<ellipse cx="306" cy="458" rx="4" ry="4" fill="#bcae40"/>
<ellipse cx="372" cy="462" rx="6" ry="5" fill="#6a7428"/>
<ellipse cx="368" cy="488" rx="5" ry="8" fill="#6e7a2a"/>
<ellipse cx="440" cy="484" rx="9" ry="7" fill="#7a7a30"/>
<ellipse cx="470" cy="490" rx="10" ry="6" fill="#8c7c3c"/>
<ellipse cx="505" cy="488" rx="10" ry="7" fill="#a08c48"/>
<ellipse cx="482" cy="468" rx="10" ry="6" fill="#4e4c1c"/>
<ellipse cx="515" cy="414" rx="7" ry="6" fill="#8c8434"/>
<ellipse cx="498" cy="400" rx="5" ry="5" fill="#6c7028"/>
<ellipse cx="452" cy="419" rx="6" ry="5" fill="#4c441c"/>
<ellipse cx="426" cy="394" rx="9" ry="6" fill="#46381a"/>
<ellipse cx="386" cy="396" rx="10" ry="7" fill="#c09a44"/>
<ellipse cx="336" cy="396" rx="9" ry="3" fill="#80583a"/>
</g>
<g filter="url(#bl1)" opacity=".9">
<ellipse cx="329.2" cy="467.5" rx="2.9" ry="2.6" fill="#84562e"/><ellipse cx="357.3" cy="461.2" rx="2.4" ry="1.8" fill="#20260c"/><ellipse cx="317.3" cy="431.9" rx="2.7" ry="2.6" fill="#2c3210"/><ellipse cx="340.6" cy="455.1" rx="2.1" ry="2.1" fill="#8e9e30"/><ellipse cx="335.3" cy="429.5" rx="1.7" ry="1.4" fill="#2c3210"/><ellipse cx="355.2" cy="449.8" rx="2.3" ry="1.8" fill="#a0a838"/><ellipse cx="344.2" cy="463.0" rx="2.5" ry="2.2" fill="#525c1e"/><ellipse cx="325.5" cy="466.9" rx="2.9" ry="2.1" fill="#525c1e"/><ellipse cx="318.2" cy="442.5" rx="1.9" ry="1.4" fill="#6a5a2a"/><ellipse cx="301.6" cy="433.2" rx="1.9" ry="1.4" fill="#2c3210"/><ellipse cx="309.8" cy="494.2" rx="2.2" ry="2.4" fill="#6a7426"/><ellipse cx="326.6" cy="468.0" rx="1.7" ry="1.7" fill="#b8a83c"/><ellipse cx="300.0" cy="450.3" rx="2.9" ry="3.0" fill="#414818"/><ellipse cx="303.8" cy="478.7" rx="1.4" ry="1.3" fill="#20260c"/><ellipse cx="307.2" cy="467.5" rx="2.1" ry="1.6" fill="#343a10"/><ellipse cx="354.6" cy="456.9" rx="2.0" ry="1.7" fill="#a0a838"/><ellipse cx="371.0" cy="470.0" rx="3.0" ry="2.1" fill="#7c8e2a"/><ellipse cx="324.5" cy="489.9" rx="2.4" ry="1.8" fill="#7c8e2a"/><ellipse cx="310.1" cy="444.6" rx="2.6" ry="2.2" fill="#525c1e"/><ellipse cx="323.9" cy="430.6" rx="1.7" ry="1.7" fill="#2c3210"/><ellipse cx="341.1" cy="453.2" rx="2.1" ry="2.3" fill="#20260c"/><ellipse cx="323.9" cy="472.7" rx="1.9" ry="1.5" fill="#5c6820"/><ellipse cx="313.0" cy="439.4" rx="2.6" ry="2.8" fill="#a0a838"/><ellipse cx="348.0" cy="454.5" rx="2.2" ry="1.6" fill="#2c3210"/><ellipse cx="349.4" cy="444.5" rx="2.7" ry="2.6" fill="#525c1e"/><ellipse cx="334.6" cy="495.6" rx="3.0" ry="2.2" fill="#20260c"/><ellipse cx="337.7" cy="489.8" rx="2.4" ry="1.9" fill="#a0a838"/><ellipse cx="325.9" cy="443.9" rx="1.5" ry="1.2" fill="#84562e"/><ellipse cx="338.8" cy="435.0" rx="2.0" ry="2.1" fill="#b8a83c"/><ellipse cx="345.6" cy="477.5" rx="2.3" ry="1.8" fill="#2c3210"/><ellipse cx="366.9" cy="461.1" rx="2.0" ry="1.6" fill="#2c3210"/><ellipse cx="331.6" cy="480.5" rx="1.9" ry="2.1" fill="#414818"/><ellipse cx="329.2" cy="453.0" rx="1.5" ry="1.6" fill="#343a10"/><ellipse cx="349.3" cy="485.3" rx="2.9" ry="2.4" fill="#8e9e30"/><ellipse cx="330.9" cy="430.9" rx="2.8" ry="3.0" fill="#2c3210"/><ellipse cx="362.1" cy="468.5" rx="2.4" ry="2.0" fill="#5c6820"/><ellipse cx="294.0" cy="430.5" rx="1.5" ry="1.2" fill="#525c1e"/><ellipse cx="324.1" cy="480.9" rx="2.3" ry="2.0" fill="#84562e"/><ellipse cx="331.5" cy="442.5" rx="2.5" ry="2.3" fill="#5c6820"/><ellipse cx="345.8" cy="462.0" rx="2.8" ry="2.4" fill="#7c8e2a"/><ellipse cx="347.3" cy="440.4" rx="1.7" ry="1.8" fill="#8e9e30"/><ellipse cx="367.4" cy="462.9" rx="1.8" ry="1.5" fill="#525c1e"/><ellipse cx="308.9" cy="457.7" rx="2.7" ry="2.9" fill="#a0a838"/><ellipse cx="323.8" cy="469.3" rx="1.9" ry="1.4" fill="#20260c"/><ellipse cx="321.1" cy="493.1" rx="1.5" ry="1.1" fill="#525c1e"/><ellipse cx="330.7" cy="495.4" rx="2.7" ry="2.3" fill="#84562e"/><ellipse cx="332.5" cy="449.0" rx="2.7" ry="3.0" fill="#20260c"/><ellipse cx="318.6" cy="488.0" rx="1.8" ry="1.7" fill="#8e9e30"/><ellipse cx="349.7" cy="468.4" rx="1.9" ry="1.9" fill="#2c3210"/><ellipse cx="344.3" cy="455.8" rx="1.7" ry="1.7" fill="#525c1e"/><ellipse cx="312.0" cy="435.7" rx="1.5" ry="1.4" fill="#20260c"/><ellipse cx="301.7" cy="465.7" rx="2.4" ry="2.1" fill="#414818"/><ellipse cx="347.8" cy="440.1" rx="2.2" ry="1.7" fill="#2c3210"/><ellipse cx="353.4" cy="465.6" rx="1.5" ry="1.2" fill="#6a5a2a"/><ellipse cx="320.7" cy="478.0" rx="2.2" ry="2.1" fill="#6a5a2a"/><ellipse cx="349.0" cy="442.0" rx="2.1" ry="2.2" fill="#6a7426"/><ellipse cx="303.4" cy="459.5" rx="2.4" ry="2.6" fill="#6a7426"/><ellipse cx="337.0" cy="474.6" rx="2.2" ry="2.3" fill="#b8a83c"/><ellipse cx="330.1" cy="474.5" rx="1.7" ry="1.7" fill="#6a5a2a"/><ellipse cx="344.3" cy="479.5" rx="1.7" ry="1.8" fill="#414818"/><ellipse cx="356.3" cy="449.3" rx="2.9" ry="3.0" fill="#b8a83c"/><ellipse cx="333.4" cy="427.8" rx="1.9" ry="1.7" fill="#525c1e"/><ellipse cx="332.0" cy="427.2" rx="2.7" ry="2.0" fill="#6a5a2a"/><ellipse cx="330.6" cy="501.0" rx="2.8" ry="2.6" fill="#8e9e30"/><ellipse cx="332.4" cy="497.1" rx="1.5" ry="1.2" fill="#84562e"/><ellipse cx="337.7" cy="488.2" rx="2.3" ry="1.8" fill="#84562e"/><ellipse cx="360.5" cy="467.6" rx="1.9" ry="1.6" fill="#5c6820"/><ellipse cx="309.7" cy="489.7" rx="2.9" ry="2.7" fill="#5c6820"/><ellipse cx="332.8" cy="456.2" rx="1.6" ry="1.1" fill="#6a7426"/><ellipse cx="334.3" cy="455.4" rx="2.7" ry="2.5" fill="#20260c"/><ellipse cx="300.5" cy="437.7" rx="2.9" ry="2.6" fill="#6a5a2a"/><ellipse cx="330.9" cy="434.6" rx="2.1" ry="2.1" fill="#20260c"/><ellipse cx="335.0" cy="433.3" rx="2.1" ry="1.5" fill="#525c1e"/><ellipse cx="311.2" cy="477.2" rx="1.9" ry="1.6" fill="#5c6820"/><ellipse cx="332.9" cy="463.0" rx="2.3" ry="2.4" fill="#5c6820"/><ellipse cx="313.0" cy="440.0" rx="2.2" ry="2.0" fill="#6a7426"/><ellipse cx="343.6" cy="487.7" rx="2.4" ry="2.2" fill="#8e9e30"/><ellipse cx="335.7" cy="441.6" rx="1.7" ry="1.6" fill="#5c6820"/><ellipse cx="318.2" cy="495.1" rx="1.7" ry="1.9" fill="#414818"/><ellipse cx="303.7" cy="443.2" rx="2.6" ry="2.1" fill="#414818"/><ellipse cx="327.8" cy="496.5" rx="2.3" ry="2.2" fill="#a0a838"/><ellipse cx="325.2" cy="477.1" rx="1.4" ry="1.1" fill="#8e9e30"/><ellipse cx="321.6" cy="487.4" rx="2.0" ry="1.9" fill="#8e9e30"/><ellipse cx="353.7" cy="463.2" rx="2.5" ry="1.9" fill="#414818"/><ellipse cx="331.6" cy="426.8" rx="2.6" ry="2.5" fill="#5c6820"/><ellipse cx="331.5" cy="439.4" rx="1.6" ry="1.2" fill="#7c8e2a"/><ellipse cx="300.6" cy="429.7" rx="2.9" ry="2.6" fill="#6a5a2a"/><ellipse cx="300.7" cy="454.7" rx="2.1" ry="1.8" fill="#a0a838"/><ellipse cx="307.5" cy="459.5" rx="2.6" ry="2.2" fill="#a0a838"/><ellipse cx="341.4" cy="432.2" rx="2.7" ry="2.2" fill="#414818"/><ellipse cx="357.1" cy="478.6" rx="2.8" ry="2.6" fill="#6a7426"/><ellipse cx="338.6" cy="439.5" rx="2.3" ry="2.0" fill="#6a5a2a"/><ellipse cx="313.7" cy="494.3" rx="2.6" ry="2.6" fill="#6a7426"/><ellipse cx="303.7" cy="450.1" rx="2.3" ry="1.9" fill="#6a7426"/><ellipse cx="354.2" cy="455.8" rx="2.6" ry="1.9" fill="#b8a83c"/><ellipse cx="317.1" cy="432.7" rx="2.8" ry="3.1" fill="#5c6820"/><ellipse cx="297.0" cy="445.7" rx="2.9" ry="2.4" fill="#a0a838"/><ellipse cx="345.8" cy="468.3" rx="2.3" ry="1.9" fill="#20260c"/><ellipse cx="344.4" cy="478.3" rx="2.6" ry="2.9" fill="#2c3210"/><ellipse cx="302.2" cy="433.2" rx="1.8" ry="1.6" fill="#84562e"/><ellipse cx="297.0" cy="439.9" rx="2.0" ry="1.5" fill="#525c1e"/><ellipse cx="315.1" cy="450.9" rx="2.3" ry="2.0" fill="#84562e"/><ellipse cx="338.4" cy="500.6" rx="2.4" ry="2.5" fill="#414818"/><ellipse cx="337.0" cy="475.8" rx="2.9" ry="2.5" fill="#7c8e2a"/><ellipse cx="323.9" cy="498.7" rx="2.8" ry="2.5" fill="#5c6820"/><ellipse cx="326.7" cy="465.0" rx="2.4" ry="2.0" fill="#525c1e"/><ellipse cx="331.7" cy="445.5" rx="2.9" ry="2.8" fill="#343a10"/><ellipse cx="312.6" cy="428.3" rx="1.7" ry="1.7" fill="#6a7426"/><ellipse cx="297.2" cy="449.0" rx="2.0" ry="1.9" fill="#343a10"/><ellipse cx="365.4" cy="457.6" rx="2.2" ry="2.4" fill="#a0a838"/>
<ellipse cx="470.8" cy="489.7" rx="2.6" ry="2.0" fill="#54501e"/><ellipse cx="526.6" cy="483.9" rx="2.6" ry="2.3" fill="#5e5a24"/><ellipse cx="484.4" cy="486.4" rx="2.6" ry="2.0" fill="#403c18"/><ellipse cx="459.3" cy="479.2" rx="1.8" ry="1.7" fill="#726a2c"/><ellipse cx="428.0" cy="490.7" rx="2.0" ry="1.7" fill="#5e5a24"/><ellipse cx="429.3" cy="498.3" rx="2.9" ry="2.8" fill="#726a2c"/><ellipse cx="429.7" cy="500.6" rx="3.1" ry="2.3" fill="#403c18"/><ellipse cx="523.9" cy="485.8" rx="3.0" ry="2.8" fill="#b09a50"/><ellipse cx="514.8" cy="486.3" rx="2.3" ry="1.7" fill="#866f34"/><ellipse cx="464.8" cy="487.7" rx="2.3" ry="1.9" fill="#54501e"/><ellipse cx="488.6" cy="470.7" rx="1.7" ry="1.8" fill="#a08c44"/><ellipse cx="458.1" cy="480.0" rx="2.6" ry="2.6" fill="#54501e"/><ellipse cx="447.0" cy="479.1" rx="2.1" ry="1.9" fill="#5e5a24"/><ellipse cx="508.0" cy="482.2" rx="2.3" ry="1.8" fill="#403c18"/><ellipse cx="424.7" cy="474.7" rx="2.5" ry="2.5" fill="#726a2c"/><ellipse cx="439.1" cy="491.0" rx="1.5" ry="1.2" fill="#a08c44"/><ellipse cx="484.4" cy="492.0" rx="2.3" ry="2.0" fill="#a08c44"/><ellipse cx="450.2" cy="483.7" rx="3.1" ry="2.8" fill="#726a2c"/><ellipse cx="469.7" cy="486.1" rx="1.7" ry="1.7" fill="#726a2c"/><ellipse cx="448.7" cy="493.4" rx="2.0" ry="1.6" fill="#54501e"/><ellipse cx="473.7" cy="476.2" rx="1.6" ry="1.4" fill="#866f34"/><ellipse cx="454.5" cy="494.0" rx="2.9" ry="2.8" fill="#726a2c"/><ellipse cx="503.9" cy="484.6" rx="2.3" ry="1.9" fill="#b09a50"/><ellipse cx="521.3" cy="497.5" rx="1.7" ry="1.4" fill="#5e5a24"/><ellipse cx="424.9" cy="478.9" rx="3.0" ry="2.8" fill="#403c18"/><ellipse cx="495.4" cy="475.1" rx="1.9" ry="1.5" fill="#b09a50"/><ellipse cx="479.7" cy="476.8" rx="1.6" ry="1.3" fill="#403c18"/><ellipse cx="524.8" cy="486.5" rx="2.5" ry="2.7" fill="#a08c44"/><ellipse cx="501.4" cy="481.8" rx="2.5" ry="2.6" fill="#5e5a24"/><ellipse cx="441.3" cy="486.4" rx="3.2" ry="3.0" fill="#403c18"/><ellipse cx="496.0" cy="497.8" rx="2.8" ry="3.0" fill="#403c18"/><ellipse cx="477.2" cy="494.0" rx="2.1" ry="1.5" fill="#a08c44"/><ellipse cx="440.2" cy="476.9" rx="2.8" ry="2.8" fill="#403c18"/><ellipse cx="486.6" cy="472.1" rx="2.4" ry="2.3" fill="#403c18"/><ellipse cx="455.6" cy="490.7" rx="2.7" ry="2.2" fill="#726a2c"/><ellipse cx="501.3" cy="489.8" rx="3.1" ry="2.6" fill="#54501e"/><ellipse cx="442.4" cy="488.6" rx="2.3" ry="1.6" fill="#866f34"/><ellipse cx="456.5" cy="475.9" rx="2.0" ry="2.1" fill="#54501e"/><ellipse cx="523.1" cy="480.1" rx="2.9" ry="2.9" fill="#a08c44"/><ellipse cx="443.6" cy="498.3" rx="2.3" ry="2.3" fill="#726a2c"/><ellipse cx="473.6" cy="480.8" rx="2.3" ry="2.3" fill="#403c18"/><ellipse cx="469.2" cy="496.2" rx="2.9" ry="2.3" fill="#866f34"/><ellipse cx="494.8" cy="494.1" rx="2.3" ry="2.0" fill="#54501e"/><ellipse cx="524.1" cy="486.3" rx="2.6" ry="2.2" fill="#b09a50"/><ellipse cx="421.8" cy="493.6" rx="3.0" ry="2.9" fill="#726a2c"/><ellipse cx="434.5" cy="475.4" rx="2.4" ry="1.9" fill="#54501e"/><ellipse cx="465.9" cy="480.0" rx="2.1" ry="2.0" fill="#a08c44"/><ellipse cx="461.6" cy="496.8" rx="3.0" ry="2.5" fill="#726a2c"/><ellipse cx="490.4" cy="494.3" rx="2.1" ry="1.8" fill="#b09a50"/><ellipse cx="448.2" cy="481.4" rx="2.1" ry="1.8" fill="#403c18"/><ellipse cx="507.2" cy="474.0" rx="2.8" ry="2.9" fill="#54501e"/><ellipse cx="523.9" cy="485.3" rx="1.5" ry="1.5" fill="#5e5a24"/><ellipse cx="499.4" cy="491.6" rx="3.2" ry="3.4" fill="#5e5a24"/><ellipse cx="434.7" cy="496.6" rx="2.9" ry="2.3" fill="#5e5a24"/><ellipse cx="437.5" cy="491.6" rx="1.9" ry="1.5" fill="#726a2c"/><ellipse cx="502.8" cy="486.0" rx="1.4" ry="1.5" fill="#a08c44"/><ellipse cx="493.3" cy="485.7" rx="2.2" ry="2.0" fill="#b09a50"/><ellipse cx="433.5" cy="481.0" rx="2.3" ry="1.9" fill="#a08c44"/><ellipse cx="487.8" cy="480.8" rx="2.1" ry="1.9" fill="#b09a50"/><ellipse cx="436.6" cy="493.0" rx="2.1" ry="1.5" fill="#5e5a24"/>
<ellipse cx="376.6" cy="467.5" rx="2.5" ry="2.6" fill="#6a6a2a"/><ellipse cx="401.7" cy="467.0" rx="2.8" ry="2.7" fill="#6a6a2a"/><ellipse cx="368.3" cy="463.3" rx="1.7" ry="1.4" fill="#3c3c16"/><ellipse cx="368.1" cy="467.5" rx="3.0" ry="3.3" fill="#6a6a2a"/><ellipse cx="365.4" cy="470.4" rx="2.8" ry="2.3" fill="#3c3c16"/><ellipse cx="410.8" cy="455.9" rx="2.8" ry="2.5" fill="#5c5c22"/><ellipse cx="396.1" cy="460.6" rx="2.0" ry="1.7" fill="#85842f"/><ellipse cx="401.9" cy="458.3" rx="2.4" ry="2.2" fill="#85842f"/><ellipse cx="404.2" cy="464.0" rx="2.6" ry="2.0" fill="#3c3c16"/><ellipse cx="394.3" cy="456.9" rx="1.7" ry="1.4" fill="#85842f"/><ellipse cx="389.4" cy="465.3" rx="2.0" ry="1.5" fill="#3c3c16"/><ellipse cx="395.2" cy="464.3" rx="2.8" ry="2.8" fill="#6a6a2a"/><ellipse cx="364.7" cy="466.6" rx="2.9" ry="2.5" fill="#3c3c16"/><ellipse cx="369.1" cy="470.8" rx="2.7" ry="2.6" fill="#6a6a2a"/><ellipse cx="406.9" cy="468.9" rx="1.8" ry="1.8" fill="#85842f"/><ellipse cx="373.0" cy="472.0" rx="2.0" ry="2.0" fill="#6a6a2a"/><ellipse cx="417.7" cy="468.0" rx="1.8" ry="1.6" fill="#5c5c22"/><ellipse cx="362.7" cy="467.9" rx="1.5" ry="1.4" fill="#5c5c22"/><ellipse cx="381.8" cy="457.0" rx="1.7" ry="1.6" fill="#4a4a1c"/><ellipse cx="417.6" cy="453.5" rx="2.1" ry="2.0" fill="#5c5c22"/><ellipse cx="412.8" cy="466.4" rx="2.2" ry="1.7" fill="#85842f"/><ellipse cx="367.8" cy="457.1" rx="1.8" ry="1.7" fill="#4a4a1c"/><ellipse cx="420.1" cy="463.1" rx="2.8" ry="2.0" fill="#85842f"/><ellipse cx="381.4" cy="462.4" rx="3.0" ry="2.7" fill="#3c3c16"/><ellipse cx="374.3" cy="454.6" rx="2.7" ry="2.3" fill="#6a6a2a"/><ellipse cx="407.3" cy="456.0" rx="2.5" ry="2.6" fill="#85842f"/>
<ellipse cx="409.8" cy="404.3" rx="2.4" ry="2.6" fill="#8a6c30"/><ellipse cx="443.7" cy="393.6" rx="1.5" ry="1.3" fill="#3a2e14"/><ellipse cx="440.9" cy="396.3" rx="2.6" ry="2.0" fill="#6a5626"/><ellipse cx="451.0" cy="394.2" rx="2.7" ry="2.3" fill="#5a4820"/><ellipse cx="412.1" cy="400.3" rx="2.5" ry="1.9" fill="#46381a"/><ellipse cx="410.6" cy="394.8" rx="1.5" ry="1.2" fill="#3a2e14"/><ellipse cx="427.7" cy="401.8" rx="2.8" ry="2.7" fill="#46381a"/><ellipse cx="435.3" cy="402.6" rx="2.0" ry="2.1" fill="#3a2e14"/><ellipse cx="431.7" cy="391.0" rx="2.1" ry="1.7" fill="#8a6c30"/><ellipse cx="431.0" cy="388.7" rx="2.7" ry="2.0" fill="#8a6c30"/><ellipse cx="410.4" cy="390.2" rx="2.1" ry="2.0" fill="#5a4820"/><ellipse cx="409.0" cy="398.5" rx="2.5" ry="2.3" fill="#3a2e14"/><ellipse cx="420.7" cy="398.0" rx="2.1" ry="2.1" fill="#8a6c30"/><ellipse cx="429.6" cy="392.1" rx="2.8" ry="3.0" fill="#46381a"/><ellipse cx="434.7" cy="398.7" rx="1.8" ry="1.6" fill="#3a2e14"/><ellipse cx="455.0" cy="397.0" rx="2.0" ry="1.8" fill="#3a2e14"/><ellipse cx="418.2" cy="393.9" rx="1.7" ry="1.6" fill="#3a2e14"/><ellipse cx="447.1" cy="388.5" rx="1.6" ry="1.2" fill="#46381a"/><ellipse cx="457.1" cy="401.2" rx="1.9" ry="2.0" fill="#8a6c30"/><ellipse cx="457.4" cy="389.0" rx="2.9" ry="3.0" fill="#46381a"/><ellipse cx="416.4" cy="408.7" rx="1.8" ry="1.5" fill="#5a4820"/><ellipse cx="440.7" cy="394.6" rx="2.6" ry="2.7" fill="#46381a"/><ellipse cx="434.3" cy="401.5" rx="2.9" ry="2.9" fill="#5a4820"/><ellipse cx="438.8" cy="391.1" rx="2.2" ry="1.7" fill="#3a2e14"/>
<ellipse cx="524.6" cy="386.9" rx="2.7" ry="2.1" fill="#c4946a"/><ellipse cx="505.0" cy="454.6" rx="3.2" ry="2.5" fill="#b48458"/><ellipse cx="490.2" cy="414.5" rx="2.1" ry="1.8" fill="#a87a48"/><ellipse cx="472.2" cy="414.4" rx="2.0" ry="1.6" fill="#7c6e30"/><ellipse cx="493.3" cy="404.5" rx="2.2" ry="1.9" fill="#a06c40"/><ellipse cx="489.8" cy="449.9" rx="2.2" ry="1.8" fill="#7c6e30"/><ellipse cx="502.5" cy="418.4" rx="3.0" ry="3.2" fill="#8e6438"/><ellipse cx="524.2" cy="453.1" rx="1.8" ry="1.6" fill="#cc9c70"/><ellipse cx="522.7" cy="441.2" rx="2.7" ry="2.2" fill="#8e6438"/><ellipse cx="468.5" cy="454.4" rx="3.0" ry="2.6" fill="#a06c40"/><ellipse cx="490.3" cy="453.2" rx="2.4" ry="2.1" fill="#cc9c70"/><ellipse cx="474.0" cy="429.5" rx="2.3" ry="1.7" fill="#b48458"/><ellipse cx="479.5" cy="452.0" rx="2.0" ry="2.1" fill="#b48458"/><ellipse cx="518.0" cy="448.5" rx="2.8" ry="2.9" fill="#b48458"/><ellipse cx="490.7" cy="395.2" rx="2.3" ry="1.9" fill="#a87a48"/><ellipse cx="464.4" cy="391.1" rx="2.2" ry="1.6" fill="#b48458"/><ellipse cx="468.9" cy="426.0" rx="2.3" ry="2.5" fill="#a06c40"/><ellipse cx="492.5" cy="424.0" rx="1.5" ry="1.7" fill="#c4946a"/><ellipse cx="511.7" cy="433.5" rx="2.6" ry="2.1" fill="#a06c40"/><ellipse cx="500.1" cy="390.5" rx="2.8" ry="2.9" fill="#8e6438"/><ellipse cx="482.0" cy="435.5" rx="2.7" ry="2.5" fill="#b48458"/><ellipse cx="495.8" cy="388.5" rx="2.2" ry="2.3" fill="#8e6438"/><ellipse cx="459.0" cy="439.5" rx="2.0" ry="1.7" fill="#cc9c70"/><ellipse cx="458.2" cy="406.1" rx="2.3" ry="2.1" fill="#b48458"/><ellipse cx="521.0" cy="440.8" rx="2.0" ry="1.6" fill="#cc9c70"/><ellipse cx="482.5" cy="404.0" rx="3.1" ry="3.2" fill="#7c6e30"/><ellipse cx="517.4" cy="444.3" rx="1.6" ry="1.6" fill="#cc9c70"/><ellipse cx="485.5" cy="456.0" rx="2.9" ry="2.5" fill="#b48458"/><ellipse cx="481.7" cy="445.0" rx="2.4" ry="2.1" fill="#a06c40"/><ellipse cx="485.2" cy="449.1" rx="1.4" ry="1.4" fill="#c4946a"/><ellipse cx="506.9" cy="423.0" rx="1.7" ry="1.3" fill="#cc9c70"/><ellipse cx="496.0" cy="446.1" rx="2.1" ry="1.6" fill="#cc9c70"/><ellipse cx="502.6" cy="436.3" rx="3.2" ry="3.2" fill="#cc9c70"/><ellipse cx="468.8" cy="442.6" rx="2.8" ry="2.3" fill="#a87a48"/><ellipse cx="499.7" cy="431.3" rx="3.1" ry="2.2" fill="#b48458"/><ellipse cx="467.0" cy="407.8" rx="3.2" ry="2.3" fill="#7c6e30"/><ellipse cx="498.3" cy="403.0" rx="1.5" ry="1.2" fill="#7c6e30"/><ellipse cx="504.7" cy="449.5" rx="2.7" ry="2.5" fill="#c4946a"/><ellipse cx="480.2" cy="435.1" rx="3.0" ry="2.5" fill="#c4946a"/><ellipse cx="487.0" cy="456.2" rx="2.1" ry="1.9" fill="#cc9c70"/><ellipse cx="521.4" cy="423.4" rx="1.7" ry="1.2" fill="#b48458"/><ellipse cx="521.8" cy="464.1" rx="1.8" ry="2.0" fill="#a06c40"/><ellipse cx="489.2" cy="418.4" rx="2.6" ry="1.8" fill="#cc9c70"/><ellipse cx="526.6" cy="435.0" rx="2.2" ry="1.6" fill="#8e6438"/><ellipse cx="519.2" cy="433.7" rx="1.9" ry="1.7" fill="#8e6438"/><ellipse cx="486.0" cy="436.8" rx="2.8" ry="2.1" fill="#b48458"/><ellipse cx="489.1" cy="424.4" rx="3.2" ry="2.9" fill="#cc9c70"/><ellipse cx="463.8" cy="453.8" rx="1.7" ry="1.6" fill="#8e6438"/><ellipse cx="503.4" cy="441.6" rx="2.6" ry="2.2" fill="#a87a48"/><ellipse cx="517.8" cy="406.3" rx="3.1" ry="2.5" fill="#8e6438"/>
<ellipse cx="328.9" cy="407.1" rx="2.2" ry="1.9" fill="#b47a48"/><ellipse cx="368.3" cy="417.3" rx="1.8" ry="1.4" fill="#8e5c30"/><ellipse cx="324.2" cy="400.7" rx="1.7" ry="1.7" fill="#8e5c30"/><ellipse cx="301.8" cy="395.7" rx="2.5" ry="1.8" fill="#c08652"/><ellipse cx="364.6" cy="415.4" rx="1.4" ry="1.3" fill="#80562e"/><ellipse cx="356.3" cy="429.4" rx="2.8" ry="2.4" fill="#b47a48"/><ellipse cx="363.0" cy="401.3" rx="2.2" ry="2.1" fill="#cc9866"/><ellipse cx="323.4" cy="387.9" rx="3.2" ry="3.3" fill="#a06a38"/><ellipse cx="341.9" cy="396.3" rx="1.7" ry="1.4" fill="#b47a48"/><ellipse cx="336.3" cy="393.2" rx="2.3" ry="2.4" fill="#b47a48"/><ellipse cx="367.4" cy="407.6" rx="3.1" ry="2.7" fill="#a06a38"/><ellipse cx="336.3" cy="413.0" rx="2.3" ry="1.6" fill="#c08652"/><ellipse cx="356.6" cy="426.5" rx="3.0" ry="2.1" fill="#a06a38"/><ellipse cx="352.7" cy="403.6" rx="2.0" ry="1.8" fill="#80562e"/><ellipse cx="352.4" cy="421.9" rx="1.8" ry="1.3" fill="#a06a38"/><ellipse cx="343.3" cy="396.7" rx="2.1" ry="1.5" fill="#a06a38"/><ellipse cx="359.0" cy="388.1" rx="2.9" ry="2.5" fill="#80562e"/><ellipse cx="355.5" cy="396.5" rx="2.4" ry="1.9" fill="#c08652"/><ellipse cx="311.8" cy="403.1" rx="1.5" ry="1.3" fill="#80562e"/><ellipse cx="337.3" cy="397.4" rx="1.5" ry="1.5" fill="#b47a48"/><ellipse cx="353.4" cy="426.7" rx="2.3" ry="1.7" fill="#c08652"/><ellipse cx="309.1" cy="413.8" rx="1.9" ry="1.7" fill="#c08652"/><ellipse cx="367.2" cy="396.5" rx="3.0" ry="3.1" fill="#b47a48"/><ellipse cx="340.1" cy="403.4" rx="2.1" ry="1.8" fill="#c08652"/><ellipse cx="368.8" cy="395.2" rx="2.2" ry="1.5" fill="#8e5c30"/><ellipse cx="345.8" cy="428.9" rx="2.9" ry="2.9" fill="#8e5c30"/><ellipse cx="359.0" cy="396.6" rx="2.6" ry="2.0" fill="#b47a48"/><ellipse cx="340.2" cy="407.6" rx="1.5" ry="1.5" fill="#80562e"/><ellipse cx="308.6" cy="415.0" rx="1.5" ry="1.1" fill="#b47a48"/><ellipse cx="358.2" cy="388.3" rx="2.0" ry="1.5" fill="#80562e"/><ellipse cx="329.1" cy="398.5" rx="1.5" ry="1.2" fill="#c08652"/><ellipse cx="357.5" cy="413.8" rx="1.8" ry="1.5" fill="#cc9866"/><ellipse cx="316.3" cy="397.8" rx="2.6" ry="2.2" fill="#a06a38"/><ellipse cx="355.3" cy="395.8" rx="2.3" ry="2.4" fill="#cc9866"/><ellipse cx="353.0" cy="414.1" rx="2.7" ry="2.9" fill="#cc9866"/><ellipse cx="302.3" cy="413.0" rx="2.8" ry="3.1" fill="#b47a48"/><ellipse cx="346.4" cy="401.4" rx="2.7" ry="2.7" fill="#c08652"/><ellipse cx="308.7" cy="387.0" rx="3.1" ry="3.1" fill="#80562e"/><ellipse cx="365.1" cy="427.9" rx="1.7" ry="1.3" fill="#cc9866"/><ellipse cx="355.1" cy="416.4" rx="2.7" ry="2.7" fill="#8e5c30"/>
<ellipse cx="417.9" cy="443.5" rx="2.9" ry="2.4" fill="#dca86c"/><ellipse cx="430.2" cy="412.8" rx="1.4" ry="1.2" fill="#aa7636"/><ellipse cx="394.2" cy="430.1" rx="1.9" ry="2.0" fill="#aa7636"/><ellipse cx="384.1" cy="432.3" rx="1.6" ry="1.7" fill="#d49c58"/><ellipse cx="385.3" cy="439.0" rx="2.3" ry="2.5" fill="#d49c58"/><ellipse cx="401.1" cy="413.4" rx="2.5" ry="1.9" fill="#aa7636"/><ellipse cx="379.2" cy="449.4" rx="2.2" ry="2.4" fill="#d49c58"/><ellipse cx="432.1" cy="426.0" rx="2.2" ry="1.8" fill="#aa7636"/><ellipse cx="438.2" cy="423.6" rx="2.9" ry="2.5" fill="#bc843c"/><ellipse cx="448.4" cy="418.5" rx="2.3" ry="2.5" fill="#dca86c"/><ellipse cx="377.7" cy="420.1" rx="2.6" ry="2.7" fill="#dca86c"/><ellipse cx="420.7" cy="413.7" rx="2.5" ry="2.6" fill="#c8904c"/><ellipse cx="387.0" cy="412.1" rx="2.3" ry="2.3" fill="#c8904c"/><ellipse cx="402.6" cy="428.6" rx="1.8" ry="1.8" fill="#d49c58"/><ellipse cx="399.3" cy="411.3" rx="3.0" ry="3.2" fill="#bc843c"/><ellipse cx="426.7" cy="431.1" rx="1.6" ry="1.4" fill="#dca86c"/><ellipse cx="443.8" cy="416.1" rx="3.0" ry="3.2" fill="#bc843c"/><ellipse cx="451.8" cy="410.2" rx="3.0" ry="2.4" fill="#c8904c"/><ellipse cx="443.3" cy="410.2" rx="2.9" ry="2.1" fill="#c8904c"/><ellipse cx="445.8" cy="436.9" rx="2.0" ry="1.5" fill="#bc843c"/><ellipse cx="391.8" cy="450.1" rx="2.3" ry="2.4" fill="#bc843c"/><ellipse cx="435.8" cy="429.4" rx="2.0" ry="1.8" fill="#dca86c"/><ellipse cx="407.9" cy="435.6" rx="1.5" ry="1.3" fill="#d49c58"/><ellipse cx="392.2" cy="422.0" rx="1.7" ry="1.4" fill="#bc843c"/><ellipse cx="456.6" cy="433.4" rx="2.2" ry="1.6" fill="#c8904c"/><ellipse cx="456.9" cy="418.2" rx="1.9" ry="1.5" fill="#d49c58"/><ellipse cx="398.7" cy="423.6" rx="2.3" ry="2.1" fill="#dca86c"/><ellipse cx="451.1" cy="432.4" rx="1.7" ry="1.5" fill="#dca86c"/><ellipse cx="384.1" cy="432.2" rx="2.1" ry="1.7" fill="#d49c58"/><ellipse cx="458.9" cy="444.4" rx="2.1" ry="2.1" fill="#d49c58"/><ellipse cx="376.6" cy="412.3" rx="2.5" ry="1.7" fill="#bc843c"/><ellipse cx="413.5" cy="447.9" rx="2.4" ry="2.6" fill="#bc843c"/><ellipse cx="440.5" cy="444.1" rx="3.0" ry="2.6" fill="#d49c58"/><ellipse cx="448.3" cy="409.3" rx="2.0" ry="1.5" fill="#bc843c"/><ellipse cx="437.0" cy="410.6" rx="3.0" ry="2.4" fill="#c8904c"/><ellipse cx="402.6" cy="431.9" rx="2.7" ry="3.0" fill="#aa7636"/>
<ellipse cx="374.0" cy="404.5" rx="1.9" ry="1.5" fill="#d2ac48"/><ellipse cx="393.6" cy="391.1" rx="1.9" ry="2.0" fill="#b08a34"/><ellipse cx="377.2" cy="405.4" rx="1.9" ry="1.9" fill="#b08a34"/><ellipse cx="376.3" cy="392.6" rx="2.6" ry="2.4" fill="#b08a34"/><ellipse cx="399.3" cy="399.8" rx="2.5" ry="2.1" fill="#c09a3c"/><ellipse cx="398.0" cy="401.1" rx="2.3" ry="2.1" fill="#c09a3c"/><ellipse cx="392.4" cy="394.5" rx="1.6" ry="1.4" fill="#a07e30"/><ellipse cx="372.4" cy="405.2" rx="2.4" ry="1.8" fill="#b08a34"/><ellipse cx="394.5" cy="408.6" rx="1.6" ry="1.5" fill="#a07e30"/><ellipse cx="370.5" cy="405.7" rx="2.3" ry="2.1" fill="#c09a3c"/><ellipse cx="400.8" cy="409.3" rx="2.5" ry="2.2" fill="#d2ac48"/><ellipse cx="372.5" cy="390.3" rx="1.5" ry="1.5" fill="#a07e30"/><ellipse cx="381.5" cy="412.1" rx="2.7" ry="2.3" fill="#a07e30"/><ellipse cx="402.0" cy="405.1" rx="2.2" ry="2.5" fill="#b08a34"/><ellipse cx="400.0" cy="409.7" rx="1.5" ry="1.3" fill="#d2ac48"/><ellipse cx="374.0" cy="397.7" rx="1.8" ry="1.6" fill="#c09a3c"/><ellipse cx="372.3" cy="395.5" rx="2.8" ry="2.3" fill="#b08a34"/><ellipse cx="385.1" cy="405.6" rx="2.8" ry="2.9" fill="#d2ac48"/>
<ellipse cx="361.7" cy="496.1" rx="2.1" ry="1.9" fill="#8a8438"/><ellipse cx="351.1" cy="490.2" rx="2.2" ry="2.1" fill="#5a6424"/><ellipse cx="348.3" cy="485.5" rx="1.8" ry="1.3" fill="#464e1a"/><ellipse cx="368.7" cy="478.5" rx="2.3" ry="2.4" fill="#7a7a30"/><ellipse cx="343.6" cy="488.5" rx="2.6" ry="1.9" fill="#5a6424"/><ellipse cx="353.3" cy="480.3" rx="2.4" ry="2.4" fill="#8a8438"/><ellipse cx="354.1" cy="500.8" rx="2.2" ry="2.0" fill="#7a7a30"/><ellipse cx="365.3" cy="499.9" rx="1.7" ry="1.6" fill="#5a6424"/><ellipse cx="365.6" cy="487.0" rx="1.6" ry="1.5" fill="#5a6424"/><ellipse cx="357.5" cy="488.5" rx="2.7" ry="2.9" fill="#5a6424"/><ellipse cx="356.6" cy="497.0" rx="2.1" ry="1.8" fill="#7a7a30"/><ellipse cx="368.5" cy="483.6" rx="1.4" ry="1.2" fill="#5a6424"/><ellipse cx="361.6" cy="493.0" rx="2.7" ry="2.4" fill="#8a8438"/><ellipse cx="352.9" cy="494.9" rx="2.0" ry="1.7" fill="#5a6424"/>
</g>
<g stroke="#7a6040" stroke-width=".5" fill="none" opacity=".7"><path d="M416,461L434,459.5M417,463.5L435.5,462M418.5,466L436.5,464.5M419.5,468.6L436.8,467M448,453L456.6,452.6M448.6,457L457,456.6M449,461L457.6,460.6M449.4,465L458,464.4"/></g>
<rect x="289" y="385" width="240" height="117" filter="url(#noiseA)" opacity=".3"/>
<rect x="289" y="385" width="240" height="117" filter="url(#noiseB)" opacity=".2"/>
<rect x="303" y="405.9" width="5.2" height="3.2" rx="1" fill="#fff"/><path d="M305.5,426.8L309.6,426.4L310,430.6L306,431Z" fill="#fff"/>
<g fill="none" stroke="#4a2e18" stroke-width=".55" opacity=".7">
<path d="M391,386C389,392 386,400 385.5,405C386,410 389,413 389,416C390,421 391,425 390,428.6C389,433 386,437 386.4,439.5C387,444 388,446 388,448.6"/>
<path d="M433.0,398.0C433.0,408.0 431.0,423.0 422.0,424.0C414.0,426.0 409.0,428.0 409.0,433.0C409.0,438.0 412.0,440.0 421.0,441.0L431.0,441.8"/>
<path d="M434.8,397.2C434.8,407.0 432.0,420.7 422.0,421.7C412.5,423.7 406.0,427.5 406.0,433.0C406.0,438.5 410.5,441.6 421.0,442.6L432.5,443.4"/>
<path d="M436.6,396.4C436.6,406.0 433.0,418.4 422.0,419.4C411.0,421.4 403.0,427.0 403.0,433.0C403.0,439.0 409.0,443.2 421.0,444.2L434.0,445.0"/>
<path d="M438.4,395.6C438.4,405.0 434.0,416.1 422.0,417.1C409.5,419.1 400.0,426.5 400.0,433.0C400.0,439.5 407.5,444.8 421.0,445.8L435.5,446.6"/>
<path d="M440.2,394.8C440.2,404.0 435.0,413.8 422.0,414.8C408.0,416.8 397.0,426.0 397.0,433.0C397.0,440.0 406.0,446.4 421.0,447.4L437.0,448.2"/>
<path d="M442.0,394.0C442.0,403.0 436.0,411.5 422.0,412.5C406.5,414.5 394.0,425.5 394.0,433.0C394.0,440.5 404.5,448.0 421.0,449.0L438.5,449.8"/>
<path d="M370.5,414C367.5,418 367,426 368.5,432C370,438 374,441 378,441"/>
<path d="M460,400C470,404 480,410 488,418C494,424 500,428 510,430"/>
<path d="M470,392C478,398 486,402 494,404"/>
<path d="M450,440C460,444 470,448 476,456C480,462 490,470 500,476"/>
<path d="M430,476C440,480 452,486 462,494"/>
<path d="M436,488C446,490 456,494 464,500"/>
<path d="M448,398C452,408 456,418 456,428C456,436 452,442 448,446"/>
<path d="M414,386C416,392 420,396 428,397"/>
</g>
</g></g>
<path d="M518,388.6L522.2,394.8L518,393L513.8,394.8Z" fill="#fff"/>
<g font-family="'DejaVu Sans','Liberation Sans',sans-serif" font-style="italic" font-weight="bold" font-size="3.2" text-anchor="middle">
<circle cx="301" cy="392.3" r=".95" fill="#e0201c"/>
<circle cx="340.6" cy="401.8" r=".95" fill="#e0201c"/>
<circle cx="349.6" cy="413.2" r=".95" fill="#e0201c"/>
<circle cx="376.8" cy="410" r=".95" fill="#e0201c"/>
<circle cx="372.7" cy="418.8" r=".95" fill="#e0201c"/>
<circle cx="371.9" cy="422.2" r=".95" fill="#e0201c"/>
<circle cx="376.8" cy="432.7" r=".95" fill="#e0201c"/>
<circle cx="350" cy="435.6" r=".95" fill="#e0201c"/>
<circle cx="396" cy="428.8" r=".95" fill="#e0201c"/>
<circle cx="408.9" cy="423.9" r=".95" fill="#e0201c"/>
<circle cx="410.8" cy="429.1" r=".95" fill="#e0201c"/>
<circle cx="426.4" cy="430.4" r=".95" fill="#e0201c"/>
<circle cx="430" cy="425.8" r=".95" fill="#e0201c"/>
<circle cx="432.4" cy="428.6" r=".95" fill="#e0201c"/>
<circle cx="416.6" cy="433.2" r=".95" fill="#e0201c"/>
<circle cx="431.3" cy="437.6" r=".95" fill="#e0201c"/>
<circle cx="444.7" cy="438.9" r=".95" fill="#e0201c"/>
<circle cx="394.8" cy="442.2" r=".95" fill="#e0201c"/>
<circle cx="366" cy="496" r=".95" fill="#e0201c"/>
<rect x="302.7" y="389.4" width="7.2" height="3.4" fill="#fff" opacity=".6"/>
<text x="306.3" y="392.3" fill="#2a4aa8">P55</text>
<rect x="341.1" y="398.8" width="7.2" height="3.4" fill="#fff" opacity=".6"/>
<text x="344.7" y="401.7" fill="#2a4aa8">P60</text>
<rect x="351.0" y="410.2" width="7.2" height="3.4" fill="#fff" opacity=".6"/>
<text x="354.6" y="413.1" fill="#2a4aa8">P29</text>
<rect x="367.9" y="407.3" width="7.2" height="3.4" fill="#fff" opacity=".6"/>
<text x="371.5" y="410.2" fill="#2a4aa8">P56</text>
<rect x="375.4" y="417.1" width="7.2" height="3.4" fill="#fff" opacity=".6"/>
<text x="379" y="420.0" fill="#2a4aa8">P32</text>
<rect x="373.7" y="421.7" width="7.2" height="3.4" fill="#fff" opacity=".6"/>
<text x="377.3" y="424.6" fill="#2a4aa8">P33</text>
<rect x="378.6" y="429.9" width="7.2" height="3.4" fill="#fff" opacity=".6"/>
<text x="382.2" y="432.8" fill="#2a4aa8">P35</text>
<rect x="351.8" y="432.3" width="7.2" height="3.4" fill="#fff" opacity=".6"/>
<text x="355.4" y="435.2" fill="#2a4aa8">P28</text>
<rect x="367.1" y="438.5" width="7.2" height="3.4" fill="#fff" opacity=".6"/>
<text x="370.7" y="441.4" fill="#2a4aa8">P27</text>
<rect x="396.6" y="424.6" width="7.2" height="3.4" fill="#fff" opacity=".6"/>
<text x="400.2" y="427.5" fill="#2a4aa8">P57</text>
<rect x="398.2" y="428.3" width="7.2" height="3.4" fill="#fff" opacity=".6"/>
<text x="401.8" y="431.2" fill="#2a4aa8">P58</text>
<rect x="411.4" y="421.2" width="7.2" height="3.4" fill="#fff" opacity=".6"/>
<text x="415" y="424.1" fill="#2a4aa8">P36</text>
<rect x="417.9" y="427.4" width="7.2" height="3.4" fill="#fff" opacity=".6"/>
<text x="421.5" y="430.3" fill="#2a4aa8">P34</text>
<rect x="431.0" y="422.8" width="7.2" height="3.4" fill="#fff" opacity=".6"/>
<text x="434.6" y="425.7" fill="#2a4aa8">P37</text>
<rect x="434.2" y="427.4" width="7.2" height="3.4" fill="#fff" opacity=".6"/>
<text x="437.8" y="430.3" fill="#2a4aa8">P38</text>
<rect x="418.7" y="432.3" width="7.2" height="3.4" fill="#fff" opacity=".6"/>
<text x="422.3" y="435.2" fill="#2a4aa8">P39</text>
<rect x="432.6" y="435.3" width="7.2" height="3.4" fill="#fff" opacity=".6"/>
<text x="436.2" y="438.2" fill="#2a4aa8">P48</text>
<rect x="433.4" y="439.3" width="7.2" height="3.4" fill="#fff" opacity=".6"/>
<text x="437" y="442.2" fill="#2a4aa8">P49</text>
<rect x="446.5" y="436.4" width="7.2" height="3.4" fill="#fff" opacity=".6"/>
<text x="450.1" y="439.3" fill="#2a4aa8">P50</text>
<rect x="396.6" y="441.6" width="7.2" height="3.4" fill="#fff" opacity=".6"/>
<text x="400.2" y="444.5" fill="#2a4aa8">P44</text>
<rect x="367.4" y="445.3" width="7.2" height="3.4" fill="#fff" opacity=".6"/>
<text x="371" y="448.2" fill="#2a4aa8">P61</text>
<rect x="367.4" y="492.3" width="7.2" height="3.4" fill="#fff" opacity=".6"/>
<text x="371" y="495.2" fill="#2a4aa8">P59</text>
<rect x="366.4" y="407.3" width="7.2" height="3.4" fill="#fff" opacity=".6"/>
<text x="370" y="410.2" fill="#2a4aa8">P54</text>
</g>
<g font-family="'DejaVu Sans','Liberation Sans',sans-serif" font-style="italic" font-weight="bold" font-size="3.8" fill="#333" text-anchor="middle">
<text x="367.5" y="383.7" textLength="21" lengthAdjust="spacingAndGlyphs">-5,330,750</text>
<text x="482.5" y="383.4" textLength="21" lengthAdjust="spacingAndGlyphs">-5,330,540</text>
<text x="367.5" y="505.8" textLength="21" lengthAdjust="spacingAndGlyphs">-5,330,750</text>
<text x="482.5" y="505.8" textLength="21" lengthAdjust="spacingAndGlyphs">-5,330,540</text>
</g>
<g font-family="'DejaVu Sans Condensed','DejaVu Sans','Liberation Sans',sans-serif" font-weight="bold" font-size="3.4" fill="#444" text-anchor="middle">
<text transform="translate(287.2,412) rotate(-90) scale(1,1.2)" textLength="16.5" lengthAdjust="spacingAndGlyphs">-1,758,120</text>
<text transform="translate(287.2,492) rotate(-90) scale(1,1.2)" textLength="16.5" lengthAdjust="spacingAndGlyphs">-1,758,330</text>
<text transform="translate(534.0,413.6) rotate(-90) scale(1,1.2)" textLength="16.5" lengthAdjust="spacingAndGlyphs">-1,758,120</text>
<text transform="translate(534.0,493) rotate(-90) scale(1,1.2)" textLength="16.5" lengthAdjust="spacingAndGlyphs">-1,758,330</text>
</g>
<path d="M367.5,384.4v1.4M482.5,384.4v1.4M367.5,501.6v1.4M482.5,501.6v1.4M288.6,412h1.4M288.6,492h1.4M527.8,414h1.4M527.8,492h1.4" stroke="#222" stroke-width=".7"/>
</g>
<g fill="none" stroke="#161616" stroke-width="1.3">
<path d="M3.6,3.4L545.8,6L546.5,252.5L5.3,253Z"/>
<path d="M545.2,252.4L3.8,249.6L3.4,511.2L546.2,511.2L545,252.4"/>
</g>
<g stroke="#141414" stroke-width="1.5" fill="none">
<path d="M23.6,8.9V104.4H265.1"/>
<path d="M21.400000000000002,104.4H23.6M21.400000000000002,85.4H23.6M21.400000000000002,66.4H23.6M21.400000000000002,47.4H23.6M21.400000000000002,28.4H23.6M21.400000000000002,9.4H23.6M23.6,104.4V106.60000000000001M58.0,104.4V106.60000000000001M92.5,104.4V106.60000000000001M126.9,104.4V106.60000000000001M161.3,104.4V106.60000000000001M195.7,104.4V106.60000000000001M230.2,104.4V106.60000000000001M264.6,104.4V106.60000000000001" stroke-width="1.2"/>
</g>
<g font-family="'Liberation Serif','DejaVu Serif',serif" font-size="6.4" fill="#444" text-anchor="end">
<text transform="translate(20.2,106.5) scale(1.1,1)">0</text>
<text transform="translate(20.2,87.5) scale(1.1,1)">2</text>
<text transform="translate(20.2,68.5) scale(1.1,1)">4</text>
<text transform="translate(20.2,49.5) scale(1.1,1)">6</text>
<text transform="translate(20.2,30.5) scale(1.1,1)">8</text>
<text transform="translate(20.2,11.5) scale(1.1,1)">10</text>
</g>
<g font-family="'Liberation Serif','DejaVu Serif',serif" font-size="6.6" fill="#444" text-anchor="middle">
<text transform="translate(23.6,112.4) scale(1.1,1)">0</text>
<text transform="translate(58.0,112.4) scale(1.1,1)">2</text>
<text transform="translate(92.5,112.4) scale(1.1,1)">4</text>
<text transform="translate(126.9,112.4) scale(1.1,1)">6</text>
<text transform="translate(161.3,112.4) scale(1.1,1)">8</text>
<text transform="translate(195.7,112.4) scale(1.1,1)">10</text>
<text transform="translate(230.2,112.4) scale(1.1,1)">12</text>
<text transform="translate(264.6,112.4) scale(1.1,1)">14</text>
</g>
<g stroke="#141414" stroke-width="1.5" fill="none">
<path d="M283.2,11.5V102.6H522.1"/>
<path d="M281.0,102.6H283.2M281.0,84.5H283.2M281.0,66.4H283.2M281.0,48.2H283.2M281.0,30.1H283.2M281.0,12.0H283.2M283.2,102.6V104.8M317.3,102.6V104.8M351.3,102.6V104.8M385.4,102.6V104.8M419.4,102.6V104.8M453.5,102.6V104.8M487.5,102.6V104.8M521.6,102.6V104.8" stroke-width="1.2"/>
</g>
<g font-family="'Liberation Serif','DejaVu Serif',serif" font-size="6.3" fill="#333" text-anchor="end">
<text transform="translate(278.6,104.7) scale(1.1,1)">0</text>
<text transform="translate(278.6,86.6) scale(1.1,1)">2</text>
<text transform="translate(278.6,68.4) scale(1.1,1)">4</text>
<text transform="translate(278.6,50.3) scale(1.1,1)">6</text>
<text transform="translate(278.6,32.2) scale(1.1,1)">8</text>
<text transform="translate(278.6,14.1) scale(1.1,1)">10</text>
</g>
<g font-family="'Liberation Serif','DejaVu Serif',serif" font-size="7" fill="#333" text-anchor="middle">
<text transform="translate(283.2,110.8) scale(1.1,1)">0</text>
<text transform="translate(317.3,110.8) scale(1.1,1)">2</text>
<text transform="translate(351.3,110.8) scale(1.1,1)">4</text>
<text transform="translate(385.4,110.8) scale(1.1,1)">6</text>
<text transform="translate(419.4,110.8) scale(1.1,1)">8</text>
<text transform="translate(453.5,110.8) scale(1.1,1)">10</text>
<text transform="translate(487.5,110.8) scale(1.1,1)">12</text>
<text transform="translate(521.6,110.8) scale(1.1,1)">14</text>
</g>
<g stroke="#141414" stroke-width="1.5" fill="none">
<path d="M24.4,128.5V226.6H254.1"/>
<path d="M22.2,226.6H24.4M22.2,207.1H24.4M22.2,187.6H24.4M22.2,168.0H24.4M22.2,148.5H24.4M22.2,129.0H24.4M24.4,226.6V228.79999999999998M57.1,226.6V228.79999999999998M89.9,226.6V228.79999999999998M122.6,226.6V228.79999999999998M155.4,226.6V228.79999999999998M188.1,226.6V228.79999999999998M220.9,226.6V228.79999999999998M253.6,226.6V228.79999999999998" stroke-width="1.2"/>
</g>
<g font-family="'Liberation Serif','DejaVu Serif',serif" font-size="7" fill="#1a1a1a" text-anchor="end" font-weight="bold">
<text transform="translate(20.2,228.9) scale(1.1,1)">0</text>
<text transform="translate(20.2,209.4) scale(1.1,1)">2</text>
<text transform="translate(20.2,189.9) scale(1.1,1)">4</text>
<text transform="translate(20.2,170.4) scale(1.1,1)">6</text>
<text transform="translate(20.2,150.8) scale(1.1,1)">8</text>
<text transform="translate(20.2,131.3) scale(1.1,1)">10</text>
</g>
<g font-family="'Liberation Serif','DejaVu Serif',serif" font-size="7" fill="#1a1a1a" text-anchor="middle" font-weight="bold">
<text transform="translate(24.4,234.8) scale(1.1,1)">0</text>
<text transform="translate(57.1,234.8) scale(1.1,1)">2</text>
<text transform="translate(89.9,234.8) scale(1.1,1)">4</text>
<text transform="translate(122.6,234.8) scale(1.1,1)">6</text>
<text transform="translate(155.4,234.8) scale(1.1,1)">8</text>
<text transform="translate(188.1,234.8) scale(1.1,1)">10</text>
<text transform="translate(220.9,234.8) scale(1.1,1)">12</text>
<text transform="translate(253.6,234.8) scale(1.1,1)">14</text>
</g>
<g stroke="#141414" stroke-width="1.15" fill="none">
<path d="M34.6,265.9V370H265.9"/>
<path d="M32.4,370.0H34.6M32.4,349.3H34.6M32.4,328.6H34.6M32.4,307.8H34.6M32.4,287.1H34.6M32.4,266.4H34.6M34.6,370V372.2M67.6,370V372.2M100.5,370V372.2M133.5,370V372.2M166.5,370V372.2M199.5,370V372.2M232.4,370V372.2M265.4,370V372.2" stroke-width="1.2"/>
</g>
<g font-family="'Liberation Serif','DejaVu Serif',serif" font-size="4.6" fill="#5a5a5a" text-anchor="end" font-weight="bold">
<text transform="translate(30.0,371.5) scale(1.45,1)">0</text>
<text transform="translate(30.0,350.8) scale(1.45,1)">2</text>
<text transform="translate(30.0,330.1) scale(1.45,1)">4</text>
<text transform="translate(30.0,309.4) scale(1.45,1)">6</text>
<text transform="translate(30.0,288.6) scale(1.45,1)">8</text>
<text transform="translate(30.0,267.9) scale(1.45,1)">10</text>
</g>
<g font-family="'Liberation Serif','DejaVu Serif',serif" font-size="4.6" fill="#5a5a5a" text-anchor="middle" font-weight="bold">
<text transform="translate(34.6,376.5) scale(1.45,1)">0</text>
<text transform="translate(67.6,376.5) scale(1.45,1)">2</text>
<text transform="translate(100.5,376.5) scale(1.45,1)">4</text>
<text transform="translate(133.5,376.5) scale(1.45,1)">6</text>
<text transform="translate(166.5,376.5) scale(1.45,1)">8</text>
<text transform="translate(199.5,376.5) scale(1.45,1)">10</text>
<text transform="translate(232.4,376.5) scale(1.45,1)">12</text>
<text transform="translate(265.4,376.5) scale(1.45,1)">14</text>
</g>
<g stroke="#141414" stroke-width="1.5" fill="none">
<path d="M296.8,263.5V370.8H517.7"/>
<path d="M294.6,370.8H296.8M294.6,349.4H296.8M294.6,328.1H296.8M294.6,306.7H296.8M294.6,285.4H296.8M294.6,264.0H296.8M296.8,370.8V373.0M328.3,370.8V373.0M359.8,370.8V373.0M391.3,370.8V373.0M422.7,370.8V373.0M454.2,370.8V373.0M485.7,370.8V373.0M517.2,370.8V373.0" stroke-width="1.2"/>
</g>
<g font-family="'Liberation Serif','DejaVu Serif',serif" font-size="5" fill="#555" text-anchor="end">
<text transform="translate(293.0,372.4) scale(1.1,1)">0</text>
<text transform="translate(293.0,351.1) scale(1.1,1)">2</text>
<text transform="translate(293.0,329.7) scale(1.1,1)">4</text>
<text transform="translate(293.0,308.4) scale(1.1,1)">6</text>
<text transform="translate(293.0,287.0) scale(1.1,1)">8</text>
<text transform="translate(293.0,265.6) scale(1.1,1)">10</text>
</g>
<g font-family="'Liberation Serif','DejaVu Serif',serif" font-size="6.6" fill="#333" text-anchor="middle">
<text transform="translate(296.8,378.8) scale(1.1,1)">0</text>
<text transform="translate(328.3,378.8) scale(1.1,1)">2</text>
<text transform="translate(359.8,378.8) scale(1.1,1)">4</text>
<text transform="translate(391.3,378.8) scale(1.1,1)">6</text>
<text transform="translate(422.7,378.8) scale(1.1,1)">8</text>
<text transform="translate(454.2,378.8) scale(1.1,1)">10</text>
<text transform="translate(485.7,378.8) scale(1.1,1)">12</text>
<text transform="translate(517.2,378.8) scale(1.1,1)">14</text>
</g>
<g stroke="#141414" stroke-width="1.3" fill="none">
<path d="M24.4,391.1V491.4H274.1"/>
<path d="M22.2,491.4H24.4M22.2,471.4H24.4M22.2,451.5H24.4M22.2,431.5H24.4M22.2,411.6H24.4M22.2,391.6H24.4M24.4,491.4V493.59999999999997M60.0,491.4V493.59999999999997M95.6,491.4V493.59999999999997M131.2,491.4V493.59999999999997M166.8,491.4V493.59999999999997M202.4,491.4V493.59999999999997M238.0,491.4V493.59999999999997M273.6,491.4V493.59999999999997" stroke-width="1.2"/>
</g>
<g font-family="'Liberation Serif','DejaVu Serif',serif" font-size="4.6" fill="#555" text-anchor="end" font-weight="bold">
<text transform="translate(21.0,492.9) scale(1.2,1)">0</text>
<text transform="translate(21.0,473.0) scale(1.2,1)">2</text>
<text transform="translate(21.0,453.0) scale(1.2,1)">4</text>
<text transform="translate(21.0,433.0) scale(1.2,1)">6</text>
<text transform="translate(21.0,413.1) scale(1.2,1)">8</text>
<text transform="translate(21.0,393.1) scale(1.2,1)">10</text>
</g>
<g font-family="'Liberation Serif','DejaVu Serif',serif" font-size="4.6" fill="#555" text-anchor="middle" font-weight="bold">
<text transform="translate(24.4,497.9) scale(1.2,1)">0</text>
<text transform="translate(60.0,497.9) scale(1.2,1)">2</text>
<text transform="translate(95.6,497.9) scale(1.2,1)">4</text>
<text transform="translate(131.2,497.9) scale(1.2,1)">6</text>
<text transform="translate(166.8,497.9) scale(1.2,1)">8</text>
<text transform="translate(202.4,497.9) scale(1.2,1)">10</text>
<text transform="translate(238.0,497.9) scale(1.2,1)">12</text>
<text transform="translate(273.6,497.9) scale(1.2,1)">14</text>
</g>
<g fill="none" stroke-linejoin="round" stroke-linecap="butt">
<path d="M24.0,83.0C24.3,83.4 25.5,85.3 26.0,86.0C26.5,86.7 27.2,88.3 28.0,88.0C28.8,87.7 30.8,84.6 32.0,83.6C33.2,82.6 35.7,81.2 37.0,80.6C38.3,80.0 40.9,80.7 42.0,79.0C43.1,77.3 44.8,71.6 45.6,68.0C46.4,64.4 47.4,56.4 48.0,52.0C48.6,47.6 49.8,38.8 50.4,35.0C51.0,31.2 51.8,25.3 52.4,23.6C53.0,21.9 54.1,21.8 55.0,22.0C55.9,22.2 58.1,22.7 59.0,25.0C59.9,27.3 60.9,34.9 61.6,39.0C62.3,43.1 63.3,51.6 64.0,56.0C64.7,60.4 66.2,68.7 67.0,72.0C67.8,75.3 68.9,79.1 70.0,81.0C71.1,82.9 73.5,85.0 75.0,86.0C76.5,87.0 79.5,88.3 81.0,88.6C82.5,88.9 84.8,89.1 86.0,88.6C87.2,88.1 88.7,85.5 90.0,85.0C91.3,84.5 94.4,84.7 96.0,84.6C97.6,84.5 100.1,85.0 102.0,84.4C103.9,83.8 107.9,81.5 110.0,80.0C112.1,78.5 116.0,74.5 118.0,73.0C120.0,71.5 123.1,69.2 125.0,68.4C126.9,67.6 130.1,66.8 132.0,67.0C133.9,67.2 137.1,68.5 139.0,69.6C140.9,70.7 143.9,73.7 146.0,75.0C148.1,76.3 152.9,78.6 155.0,79.0C157.1,79.4 159.7,78.0 162.0,78.0C164.3,78.0 168.9,78.8 172.0,79.0C175.1,79.2 182.2,79.7 185.0,79.8C187.8,79.9 191.0,79.7 193.0,80.0C195.0,80.3 197.6,81.3 200.0,82.0C202.4,82.7 207.7,84.7 211.0,85.4C214.3,86.1 221.0,87.2 225.0,87.6C229.0,88.0 235.7,88.3 241.0,88.4C246.3,88.5 261.8,88.1 265.0,88.0" stroke="#e83a3a" stroke-width="1.05" stroke-dasharray="2.1 1.5"/>
<path d="M24.0,96.0C24.3,96.2 25.8,97.2 26.5,97.5C27.2,97.8 28.3,98.5 29.0,98.4C29.7,98.3 31.2,97.5 32.0,97.0C32.8,96.5 33.5,95.9 35.0,95.0C36.5,94.1 41.4,91.7 43.0,90.0C44.6,88.3 46.1,85.2 47.0,82.0C47.9,78.8 49.3,69.9 50.0,66.0C50.7,62.1 51.6,55.3 52.4,53.0C53.2,50.7 55.1,49.0 56.0,49.0C56.9,49.0 58.3,51.0 59.0,53.0C59.7,55.0 60.3,60.8 61.0,64.0C61.7,67.2 63.2,74.1 64.0,77.0C64.8,79.9 66.1,84.1 67.0,86.0C67.9,87.9 69.8,90.0 71.0,91.0C72.2,92.0 74.5,93.1 76.0,93.6C77.5,94.1 80.7,94.9 82.0,95.0C83.3,95.1 84.9,94.9 86.0,94.4C87.1,93.9 88.1,91.9 90.0,91.4C91.9,90.9 97.6,91.0 100.0,90.4C102.4,89.8 105.9,88.2 108.0,87.0C110.1,85.8 113.9,82.9 116.0,81.6C118.1,80.3 121.8,77.9 124.0,77.0C126.2,76.1 130.4,75.0 132.4,75.0C134.4,75.0 137.2,76.1 139.0,77.0C140.8,77.9 143.9,81.0 146.0,82.0C148.1,83.0 152.9,84.2 155.0,84.4C157.1,84.6 159.7,83.6 162.0,83.6C164.3,83.6 168.9,84.0 172.0,84.2C175.1,84.4 182.2,84.7 185.0,84.8C187.8,84.9 191.0,84.7 193.0,85.0C195.0,85.3 197.6,86.3 200.0,87.0C202.4,87.7 207.7,89.4 211.0,90.0C214.3,90.6 221.0,91.3 225.0,91.6C229.0,91.9 235.7,91.9 241.0,92.0C246.3,92.1 261.8,92.0 265.0,92.0" stroke="#e83a3a" stroke-width="1.05" stroke-dasharray="2.1 1.5"/>
<path d="M24.0,93.0C24.3,93.2 25.8,94.2 26.5,94.5C27.2,94.8 28.9,95.8 29.6,95.6C30.3,95.4 31.3,93.7 32.0,93.0C32.7,92.3 34.1,90.7 35.0,90.0C35.9,89.3 37.9,88.2 39.0,87.5C40.1,86.8 42.1,86.0 43.0,85.0C43.9,84.0 45.0,81.5 45.5,80.0C46.0,78.5 46.4,76.9 47.0,74.0C47.6,71.1 49.3,62.1 50.0,58.0C50.7,53.9 51.8,45.8 52.4,43.0C53.0,40.2 53.6,37.3 54.4,37.0C55.2,36.7 57.5,39.0 58.4,41.0C59.3,43.0 60.3,48.4 61.0,52.0C61.7,55.6 63.2,64.4 64.0,68.0C64.8,71.6 66.1,76.6 67.0,79.0C67.9,81.4 69.8,84.6 71.0,86.0C72.2,87.4 74.5,88.9 76.0,89.6C77.5,90.3 80.7,91.3 82.0,91.6C83.3,91.9 85.1,92.0 86.0,91.6C86.9,91.2 88.1,89.2 89.0,88.6C89.9,88.0 91.7,87.5 93.0,87.4C94.3,87.3 97.5,88.2 99.0,88.2C100.5,88.2 102.5,87.7 104.0,87.2C105.5,86.7 108.8,85.3 110.0,84.4C111.2,83.5 111.7,81.9 113.0,80.6C114.3,79.3 118.3,76.1 120.0,75.0C121.7,73.9 124.3,72.5 126.0,72.0C127.7,71.5 130.7,70.8 132.4,71.0C134.1,71.2 137.2,72.6 139.0,73.6C140.8,74.6 143.9,77.5 146.0,78.6C148.1,79.7 152.9,81.3 155.0,81.6C157.1,81.9 160.0,80.6 162.0,80.6C164.0,80.6 167.6,81.2 170.0,81.4C172.4,81.6 178.0,82.2 180.0,82.4C182.0,82.6 183.4,82.6 185.0,82.6C186.6,82.6 190.1,82.2 192.0,82.4C193.9,82.6 196.5,83.7 199.0,84.4C201.5,85.1 207.5,86.9 211.0,87.6C214.5,88.3 221.0,89.2 225.0,89.6C229.0,90.0 235.7,90.3 241.0,90.4C246.3,90.5 261.8,90.1 265.0,90.0" stroke="#dd1e1e" stroke-width="1.7"/>
</g>
<g fill="none" stroke-linejoin="round" stroke-linecap="butt">
<path d="M284.0,82.0C284.3,82.5 285.9,85.1 286.5,86.0C287.1,86.9 287.7,89.1 288.6,89.0C289.5,88.9 291.3,86.3 293.0,85.0C294.7,83.7 299.5,81.0 301.0,79.0C302.5,77.0 303.2,73.1 304.0,70.0C304.8,66.9 306.2,60.0 307.0,56.0C307.8,52.0 309.2,43.9 310.0,40.0C310.8,36.1 312.2,29.8 313.0,27.0C313.8,24.2 315.3,20.3 316.0,19.0C316.7,17.7 317.5,15.8 318.0,17.0C318.5,18.2 319.3,23.6 320.0,28.0C320.7,32.4 322.2,44.7 323.0,50.0C323.8,55.3 325.2,64.0 326.0,68.0C326.8,72.0 327.9,77.5 329.0,80.0C330.1,82.5 332.8,86.0 334.0,87.0C335.2,88.0 336.7,88.1 338.0,87.4C339.3,86.7 342.5,84.3 344.0,82.0C345.5,79.7 347.8,73.7 349.0,70.0C350.2,66.3 351.9,56.9 353.0,54.0C354.1,51.1 356.2,49.3 357.0,48.5C357.8,47.7 358.1,47.9 359.0,48.0C359.9,48.1 362.7,47.8 364.0,49.0C365.3,50.2 367.3,54.3 369.0,57.0C370.7,59.7 374.9,65.9 377.0,69.0C379.1,72.1 382.3,78.3 385.0,80.0C387.7,81.7 394.3,81.1 397.0,81.6C399.7,82.1 401.8,83.5 405.0,83.6C408.2,83.7 416.5,82.3 421.0,82.4C425.5,82.5 435.3,83.8 439.0,84.0C442.7,84.2 446.3,83.9 449.0,83.6C451.7,83.3 456.7,82.1 459.0,81.8C461.3,81.5 463.2,81.2 466.0,81.0C468.8,80.8 475.7,80.1 480.0,80.0C484.3,79.9 494.3,79.8 498.0,80.0C501.7,80.2 504.9,81.3 508.0,81.6C511.1,81.9 519.3,82.5 521.0,82.6" stroke="#e83a3a" stroke-width="1.05" stroke-dasharray="2.1 1.5"/>
<path d="M284.0,98.0C284.7,98.1 287.7,98.7 289.0,98.4C290.3,98.1 292.1,96.9 294.0,95.6C295.9,94.3 301.4,91.1 303.0,89.0C304.6,86.9 305.2,82.8 306.0,80.0C306.8,77.2 308.2,71.3 309.0,68.0C309.8,64.7 311.2,57.7 312.0,55.0C312.8,52.3 314.3,49.1 315.0,48.0C315.7,46.9 316.7,45.7 317.4,47.0C318.1,48.3 319.3,54.4 320.0,58.0C320.7,61.6 322.2,70.5 323.0,74.0C323.8,77.5 325.1,81.9 326.0,84.0C326.9,86.1 328.9,88.9 330.0,90.0C331.1,91.1 332.9,92.3 334.0,92.6C335.1,92.9 336.7,92.9 338.0,92.4C339.3,91.9 342.5,90.4 344.0,89.0C345.5,87.6 347.8,84.3 349.0,82.0C350.2,79.7 351.9,74.2 353.0,72.0C354.1,69.8 356.2,66.3 357.0,65.4C357.8,64.5 358.1,64.9 359.0,65.0C359.9,65.1 362.7,65.0 364.0,66.0C365.3,67.0 367.3,70.3 369.0,72.4C370.7,74.5 375.1,80.1 377.0,82.0C378.9,83.9 380.3,86.3 383.0,87.0C385.7,87.7 394.1,87.1 397.0,87.4C399.9,87.7 401.8,89.3 405.0,89.4C408.2,89.5 416.5,88.4 421.0,88.4C425.5,88.4 435.3,89.5 439.0,89.6C442.7,89.7 446.3,89.5 449.0,89.2C451.7,88.9 456.7,87.8 459.0,87.4C461.3,87.0 463.2,86.7 466.0,86.4C468.8,86.1 475.7,85.4 480.0,85.2C484.3,85.0 494.3,84.8 498.0,85.0C501.7,85.2 504.9,86.1 508.0,86.4C511.1,86.7 519.3,87.4 521.0,87.6" stroke="#e83a3a" stroke-width="1.05" stroke-dasharray="2.1 1.5"/>
<path d="M284.0,93.0C284.3,93.2 285.8,94.2 286.5,94.5C287.2,94.8 288.1,96.1 289.0,95.6C289.9,95.1 291.9,92.0 293.0,91.0C294.1,90.0 295.8,88.9 297.0,88.0C298.2,87.1 300.9,85.5 302.0,84.0C303.1,82.5 304.2,79.7 305.0,77.0C305.8,74.3 307.2,67.7 308.0,64.0C308.8,60.3 310.2,52.5 311.0,49.0C311.8,45.5 313.1,39.9 314.0,38.0C314.9,36.1 316.7,33.7 317.4,34.4C318.1,35.1 318.8,39.6 319.4,43.0C320.0,46.4 321.3,55.9 322.0,60.0C322.7,64.1 324.1,70.7 325.0,74.0C325.9,77.3 327.8,82.9 329.0,85.0C330.2,87.1 332.8,89.3 334.0,90.0C335.2,90.7 336.7,90.5 338.0,90.0C339.3,89.5 342.5,87.6 344.0,86.0C345.5,84.4 347.8,80.9 349.0,78.0C350.2,75.1 352.1,66.7 353.0,64.0C353.9,61.3 355.3,58.4 356.0,57.4C356.7,56.4 357.1,56.6 358.0,56.6C358.9,56.6 361.5,56.3 363.0,57.4C364.5,58.5 367.1,62.5 369.0,65.0C370.9,67.5 375.0,73.5 377.0,76.0C379.0,78.5 381.3,82.5 384.0,83.6C386.7,84.7 394.2,84.0 397.0,84.4C399.8,84.8 402.9,86.1 405.0,86.4C407.1,86.7 411.0,86.6 413.0,86.4C415.0,86.2 417.9,85.2 420.0,85.2C422.1,85.2 426.5,86.2 429.0,86.4C431.5,86.6 436.3,87.0 439.0,87.0C441.7,87.0 446.3,86.7 449.0,86.4C451.7,86.1 456.7,85.0 459.0,84.6C461.3,84.2 463.2,83.9 466.0,83.6C468.8,83.3 475.7,82.8 480.0,82.6C484.3,82.4 494.3,82.2 498.0,82.4C501.7,82.6 504.9,83.7 508.0,84.0C511.1,84.3 519.3,84.9 521.0,85.0" stroke="#dd1e1e" stroke-width="1.7"/>
</g>
<g fill="none" stroke-linejoin="round" stroke-linecap="butt">
<path d="M25.0,204.0C25.3,203.5 26.5,201.2 27.0,200.0C27.5,198.8 28.0,194.3 28.4,195.0C28.8,195.7 29.5,203.9 30.0,205.0C30.5,206.1 31.5,202.9 32.0,203.0C32.5,203.1 33.4,206.3 34.0,206.0C34.6,205.7 35.9,201.0 36.6,201.0C37.3,201.0 38.1,205.1 39.0,206.0C39.9,206.9 41.8,208.3 43.0,208.0C44.2,207.7 46.9,206.1 48.0,204.0C49.1,201.9 50.2,196.0 51.0,192.0C51.8,188.0 53.1,178.3 54.0,174.0C54.9,169.7 56.8,160.3 57.6,159.6C58.4,158.9 59.3,165.2 60.0,169.0C60.7,172.8 62.1,183.3 63.0,188.0C63.9,192.7 65.9,200.7 67.0,204.0C68.1,207.3 69.9,210.9 71.0,212.4C72.1,213.9 73.8,215.7 75.0,215.6C76.2,215.5 78.7,213.7 80.0,212.0C81.3,210.3 83.8,205.9 85.0,203.0C86.2,200.1 87.9,192.9 89.0,190.0C90.1,187.1 92.0,182.4 93.0,181.0C94.0,179.6 95.7,179.5 96.6,179.6C97.5,179.7 99.0,180.6 100.0,182.0C101.0,183.4 102.7,187.5 104.0,190.0C105.3,192.5 108.9,198.9 110.0,201.0C111.1,203.1 110.8,203.7 112.0,205.4C113.2,207.1 117.5,212.4 119.0,213.8C120.5,215.2 121.1,215.5 123.0,215.8C124.9,216.1 130.5,215.6 133.0,215.8C135.5,216.0 139.9,217.1 142.0,217.0C144.1,216.9 147.0,215.7 149.0,215.0C151.0,214.3 154.7,212.3 157.0,211.4C159.3,210.5 163.9,209.0 166.0,208.0C168.1,207.0 171.4,204.7 173.0,204.0C174.6,203.3 176.4,202.7 178.0,202.6C179.6,202.5 183.0,202.9 185.0,203.4C187.0,203.9 190.9,205.7 193.0,206.4C195.1,207.1 199.0,208.1 201.0,208.4C203.0,208.7 206.1,209.1 208.0,209.0C209.9,208.9 212.7,208.3 215.0,208.0C217.3,207.7 222.3,206.7 225.0,206.4C227.7,206.1 232.3,205.5 235.0,205.4C237.7,205.3 242.5,205.3 245.0,205.4C247.5,205.5 252.3,206.3 253.4,206.4" stroke="#e83a3a" stroke-width="0.9" stroke-dasharray="1.6 1.6"/>
<path d="M25.0,220.0C25.7,219.9 28.8,219.1 30.0,219.0C31.2,218.9 32.8,219.1 34.0,219.0C35.2,218.9 37.8,218.3 39.0,218.0C40.2,217.7 41.8,217.3 43.0,217.0C44.2,216.7 46.9,216.8 48.0,216.0C49.1,215.2 50.2,213.4 51.0,211.0C51.8,208.6 53.1,201.2 54.0,198.0C54.9,194.8 56.8,187.8 57.6,187.0C58.4,186.2 59.3,189.9 60.0,192.0C60.7,194.1 62.1,200.3 63.0,203.0C63.9,205.7 65.9,210.1 67.0,212.0C68.1,213.9 69.9,216.6 71.0,217.6C72.1,218.6 73.8,219.6 75.0,219.4C76.2,219.2 78.7,217.8 80.0,216.4C81.3,215.0 83.8,211.5 85.0,209.0C86.2,206.5 87.9,200.8 89.0,198.0C90.1,195.2 92.1,189.7 93.0,188.0C93.9,186.3 95.1,185.6 96.0,185.6C96.9,185.6 98.9,186.6 100.0,188.0C101.1,189.4 102.7,193.5 104.0,196.0C105.3,198.5 108.9,205.1 110.0,207.0C111.1,208.9 110.8,209.0 112.0,210.6C113.2,212.2 117.5,217.6 119.0,219.0C120.5,220.4 121.1,220.7 123.0,221.0C124.9,221.3 130.5,220.8 133.0,221.0C135.5,221.2 139.9,222.3 142.0,222.2C144.1,222.1 147.0,220.9 149.0,220.2C151.0,219.5 154.7,217.5 157.0,216.6C159.3,215.7 163.9,214.2 166.0,213.2C168.1,212.2 171.4,209.9 173.0,209.2C174.6,208.5 176.4,207.9 178.0,207.8C179.6,207.7 183.0,208.1 185.0,208.6C187.0,209.1 190.9,210.9 193.0,211.6C195.1,212.3 199.0,213.3 201.0,213.6C203.0,213.9 206.1,214.3 208.0,214.2C209.9,214.1 212.7,213.5 215.0,213.2C217.3,212.9 222.3,211.9 225.0,211.6C227.7,211.3 232.3,210.7 235.0,210.6C237.7,210.5 242.5,210.5 245.0,210.6C247.5,210.7 252.3,211.5 253.4,211.6" stroke="#e83a3a" stroke-width="0.9" stroke-dasharray="1.6 1.6"/>
<path d="M25.0,216.0C25.4,215.7 27.3,214.1 28.0,214.0C28.7,213.9 29.5,215.2 30.0,215.0C30.5,214.8 31.5,212.5 32.0,212.4C32.5,212.3 33.5,214.2 34.0,214.0C34.5,213.8 35.3,211.1 36.0,211.0C36.7,210.9 38.1,213.4 39.0,213.6C39.9,213.8 41.8,212.6 43.0,212.4C44.2,212.2 46.9,213.1 48.0,212.0C49.1,210.9 50.2,207.2 51.0,204.0C51.8,200.8 53.1,191.9 54.0,188.0C54.9,184.1 56.8,175.2 57.6,174.4C58.4,173.6 59.3,179.1 60.0,182.0C60.7,184.9 62.1,192.5 63.0,196.0C63.9,199.5 65.9,205.5 67.0,208.0C68.1,210.5 69.9,213.7 71.0,215.0C72.1,216.3 73.8,217.5 75.0,217.4C76.2,217.3 78.7,215.5 80.0,214.0C81.3,212.5 83.8,208.7 85.0,206.0C86.2,203.3 87.9,196.9 89.0,194.0C90.1,191.1 92.1,185.6 93.0,184.0C93.9,182.4 95.1,182.0 96.0,182.2C96.9,182.4 98.8,183.6 100.0,185.4C101.2,187.2 103.4,193.0 105.0,196.0C106.6,199.0 110.1,205.3 112.0,208.0C113.9,210.7 117.5,215.0 119.0,216.4C120.5,217.8 121.1,218.1 123.0,218.4C124.9,218.7 130.5,218.2 133.0,218.4C135.5,218.6 139.9,219.7 142.0,219.6C144.1,219.5 147.0,218.3 149.0,217.6C151.0,216.9 154.7,214.9 157.0,214.0C159.3,213.1 163.9,211.6 166.0,210.6C168.1,209.6 171.4,207.3 173.0,206.6C174.6,205.9 176.4,205.3 178.0,205.2C179.6,205.1 183.0,205.5 185.0,206.0C187.0,206.5 190.9,208.3 193.0,209.0C195.1,209.7 199.0,210.7 201.0,211.0C203.0,211.3 206.1,211.7 208.0,211.6C209.9,211.5 212.7,210.9 215.0,210.6C217.3,210.3 222.3,209.3 225.0,209.0C227.7,208.7 232.3,208.1 235.0,208.0C237.7,207.9 242.5,207.9 245.0,208.0C247.5,208.1 252.3,208.9 253.4,209.0" stroke="#dd1e1e" stroke-width="1.7"/>
</g>
<g fill="none" stroke-linejoin="round" stroke-linecap="butt">
<path d="M35.5,341.0C35.6,341.4 36.8,345.3 37.0,346.0C37.2,346.7 37.8,348.5 38.0,349.0C38.2,349.5 39.4,352.1 40.0,352.0C40.6,351.9 44.1,348.4 45.0,348.0C45.9,347.6 50.2,348.1 51.0,347.4C51.8,346.6 53.5,341.2 54.0,339.0C54.5,336.8 56.5,324.2 57.0,321.0C57.5,317.8 59.5,303.8 60.0,301.0C60.5,298.2 62.0,288.6 62.4,287.0C62.8,285.4 64.5,282.3 65.0,282.0C65.5,281.7 67.5,282.1 68.0,283.0C68.5,283.9 70.0,290.5 70.4,293.0C70.8,295.5 72.5,310.0 73.0,313.0C73.5,316.0 75.4,326.7 76.0,329.0C76.6,331.3 79.2,339.4 80.0,341.0C80.8,342.6 84.2,347.2 85.0,348.0C85.8,348.8 89.2,350.6 90.0,350.6C90.8,350.6 94.3,348.4 95.0,348.0C95.7,347.6 97.2,346.4 98.0,346.0C98.8,345.6 104.0,344.7 105.0,343.6C106.0,342.5 109.2,334.3 110.0,333.0C110.8,331.7 114.1,328.6 115.0,328.4C115.9,328.1 120.0,330.3 121.0,330.0C122.0,329.7 126.1,325.9 127.0,325.0C127.9,324.1 131.1,319.4 132.0,319.0C132.9,318.6 136.9,319.4 138.0,320.4C139.1,321.4 143.9,330.0 145.0,331.0C146.1,332.0 149.8,332.6 151.0,332.0C152.2,331.4 157.6,324.3 159.0,323.6C160.4,322.9 166.5,324.4 168.0,324.0C169.5,323.6 175.6,319.0 177.0,318.6C178.4,318.2 183.9,319.2 185.0,319.6C186.1,320.1 189.2,323.2 190.0,324.0C190.8,324.8 193.7,327.9 195.0,329.0C196.3,330.1 204.2,335.9 206.0,337.0C207.8,338.1 214.9,341.1 217.0,341.6C219.1,342.2 228.8,343.2 231.0,343.6C233.2,344.0 241.0,346.2 243.0,346.6C245.0,347.1 253.1,348.8 255.0,349.0C256.9,349.2 264.5,349.6 265.4,349.6" stroke="#e83a3a" stroke-width="0.8" stroke-dasharray="1.8 1.6"/>
<path d="M35.5,358.0C35.8,358.2 38.4,359.9 39.0,360.0C39.6,360.1 42.1,359.0 43.0,358.6C43.9,358.2 49.0,355.8 50.0,355.0C51.0,354.2 54.2,350.3 55.0,349.0C55.8,347.7 58.3,340.7 59.0,339.0C59.7,337.3 62.3,330.2 63.0,329.0C63.7,327.8 66.9,324.9 67.6,325.0C68.3,325.1 70.4,329.0 71.0,330.0C71.6,331.0 74.2,335.6 75.0,337.0C75.8,338.4 79.1,345.6 80.0,347.0C80.9,348.4 85.0,353.2 86.0,354.0C87.0,354.8 91.3,356.7 92.0,357.0C92.7,357.3 93.5,358.3 94.0,358.0C94.5,357.7 97.1,354.1 98.0,353.6C98.9,353.1 104.0,352.4 105.0,351.6C106.0,350.8 109.2,345.0 110.0,344.0C110.8,343.0 114.1,340.2 115.0,340.0C115.9,339.8 120.0,341.8 121.0,341.6C122.0,341.4 126.0,338.7 127.0,338.0C128.0,337.3 132.0,333.4 133.0,333.0C134.0,332.6 138.0,333.0 139.0,333.6C140.0,334.2 143.9,339.4 145.0,340.0C146.1,340.6 150.8,340.9 152.0,340.6C153.2,340.3 157.7,336.8 159.0,336.4C160.3,336.0 166.5,336.2 168.0,336.0C169.5,335.8 175.6,333.7 177.0,333.6C178.4,333.5 183.9,334.6 185.0,335.0C186.1,335.4 189.2,337.5 190.0,338.0C190.8,338.5 193.7,340.3 195.0,341.0C196.3,341.7 204.2,345.9 206.0,346.6C207.8,347.3 214.9,348.7 217.0,349.0C219.1,349.3 228.8,350.3 231.0,350.6C233.2,350.9 241.0,352.1 243.0,352.4C245.0,352.7 253.1,353.8 255.0,354.0C256.9,354.2 264.5,354.4 265.4,354.4" stroke="#e83a3a" stroke-width="0.8" stroke-dasharray="1.8 1.6"/>
<path d="M35.5,355.0C35.5,355.2 35.7,356.8 36.0,357.0C36.3,357.2 38.4,358.2 39.0,358.0C39.6,357.8 42.1,355.6 43.0,355.0C43.9,354.4 49.1,352.0 50.0,351.0C50.9,350.0 53.3,344.8 54.0,343.0C54.7,341.2 57.4,331.2 58.0,329.0C58.6,326.8 60.5,318.6 61.0,317.0C61.5,315.4 63.4,310.8 64.0,310.0C64.6,309.2 67.4,307.6 68.0,308.0C68.6,308.4 70.5,313.4 71.0,315.0C71.5,316.6 73.4,325.0 74.0,327.0C74.6,329.0 77.2,337.2 78.0,339.0C78.8,340.8 82.2,346.8 83.0,348.0C83.8,349.2 87.2,352.5 88.0,353.0C88.8,353.5 91.9,354.3 92.4,354.4C92.9,354.5 94.0,354.4 94.5,354.0C95.0,353.6 97.1,350.5 98.0,350.0C98.9,349.5 104.0,348.9 105.0,348.0C106.0,347.1 109.2,340.1 110.0,339.0C110.8,337.9 114.2,334.6 115.0,334.4C115.8,334.2 119.1,336.6 120.0,336.4C120.9,336.2 125.0,333.2 126.0,332.4C127.0,331.6 131.0,327.4 132.0,327.0C133.0,326.6 136.9,326.6 138.0,327.4C139.1,328.1 143.8,335.2 145.0,336.0C146.2,336.8 150.8,337.1 152.0,336.6C153.2,336.2 157.7,331.1 159.0,330.6C160.3,330.1 166.5,330.9 168.0,330.6C169.5,330.3 175.6,326.9 177.0,326.6C178.4,326.4 183.9,327.2 185.0,327.6C186.1,328.1 189.2,331.3 190.0,332.0C190.8,332.7 193.7,335.1 195.0,336.0C196.3,336.9 204.2,341.8 206.0,342.6C207.8,343.4 214.9,345.6 217.0,346.0C219.1,346.4 228.8,347.7 231.0,348.0C233.2,348.3 241.0,349.7 243.0,350.0C245.0,350.3 253.1,351.8 255.0,352.0C256.9,352.2 264.5,352.6 265.4,352.6" stroke="#dd1e1e" stroke-width="1.6"/>
</g>
<g fill="none" stroke-linejoin="round" stroke-linecap="butt">
<path d="M297.4,339.0C297.6,339.5 298.5,341.0 299.0,343.0C299.5,345.0 300.3,353.2 301.0,354.0C301.7,354.8 302.9,350.6 304.0,349.0C305.1,347.4 307.8,344.0 309.0,342.0C310.2,340.0 311.9,335.6 313.0,334.0C314.1,332.4 316.1,330.3 317.0,330.0C317.9,329.7 319.2,330.8 320.0,332.0C320.8,333.2 322.1,336.7 323.0,339.0C323.9,341.3 325.7,347.3 327.0,349.0C328.3,350.7 331.4,351.1 333.0,351.6C334.6,352.1 337.4,352.3 339.0,353.0C340.6,353.7 343.5,356.1 345.0,356.6C346.5,357.1 348.4,357.2 350.0,357.0C351.6,356.8 355.0,355.1 357.0,355.0C359.0,354.9 362.9,356.1 365.0,356.0C367.1,355.9 371.1,354.1 373.0,354.0C374.9,353.9 377.5,355.1 379.0,355.6C380.5,356.1 382.4,357.6 384.0,358.0C385.6,358.4 389.3,358.7 391.0,358.4C392.7,358.1 395.1,356.6 397.0,356.0C398.9,355.4 402.3,354.3 405.0,353.9C407.7,353.5 413.0,353.3 417.0,353.3C421.0,353.3 430.5,354.0 435.0,353.9C439.5,353.8 446.2,352.6 451.0,352.3C455.8,352.0 465.1,351.5 471.0,351.3C476.9,351.1 488.9,351.0 495.0,350.9C501.1,350.8 514.1,350.4 517.0,350.3" stroke="#e83a3a" stroke-width="0.9" stroke-dasharray="2 1.8"/>
<path d="M297.4,360.0C297.6,360.8 298.4,365.5 299.0,366.0C299.6,366.5 300.9,364.7 302.0,364.0C303.1,363.3 305.7,361.7 307.0,361.0C308.3,360.3 310.7,359.9 312.0,359.0C313.3,358.1 315.8,355.2 317.0,354.0C318.2,352.8 320.0,350.3 321.0,350.0C322.0,349.7 323.5,351.1 324.4,352.0C325.3,352.9 326.7,355.9 328.0,356.6C329.3,357.3 332.4,357.2 334.0,357.6C335.6,358.0 338.5,359.0 340.0,359.6C341.5,360.2 343.7,362.0 345.0,362.4C346.3,362.8 348.4,362.6 350.0,362.4C351.6,362.2 355.0,360.7 357.0,360.6C359.0,360.5 362.9,361.7 365.0,361.6C367.1,361.5 371.1,359.7 373.0,359.6C374.9,359.5 377.5,360.5 379.0,361.0C380.5,361.5 382.4,362.7 384.0,363.0C385.6,363.3 389.3,363.8 391.0,363.6C392.7,363.4 395.1,362.0 397.0,361.4C398.9,360.8 402.3,359.7 405.0,359.3C407.7,358.9 413.0,358.7 417.0,358.7C421.0,358.7 430.5,359.4 435.0,359.3C439.5,359.2 446.2,358.0 451.0,357.7C455.8,357.4 465.1,356.9 471.0,356.7C476.9,356.5 488.9,356.4 495.0,356.3C501.1,356.2 514.1,355.8 517.0,355.7" stroke="#e83a3a" stroke-width="0.9" stroke-dasharray="2 1.8"/>
<path d="M297.4,356.0C297.6,355.9 298.6,354.3 299.0,355.0C299.4,355.7 299.9,360.3 300.4,361.0C300.9,361.7 301.8,360.8 302.4,360.0C303.0,359.2 304.1,355.9 305.0,355.0C305.9,354.1 307.8,353.8 309.0,353.0C310.2,352.2 312.8,350.2 314.0,349.0C315.2,347.8 317.1,344.8 318.0,344.0C318.9,343.2 319.6,342.6 320.4,343.0C321.2,343.4 323.0,345.6 324.0,347.0C325.0,348.4 326.7,352.6 328.0,353.6C329.3,354.6 332.5,354.1 334.0,354.4C335.5,354.7 337.5,355.3 339.0,356.0C340.5,356.7 343.5,359.1 345.0,359.6C346.5,360.1 348.4,359.8 350.0,359.6C351.6,359.4 355.0,358.1 357.0,358.0C359.0,357.9 362.9,359.1 365.0,359.0C367.1,358.9 371.3,357.1 373.0,357.0C374.7,356.9 376.5,357.5 378.0,358.0C379.5,358.5 382.3,360.2 384.0,360.6C385.7,361.0 389.3,361.3 391.0,361.0C392.7,360.7 395.1,359.2 397.0,358.6C398.9,358.0 402.3,356.9 405.0,356.6C407.7,356.3 413.0,356.0 417.0,356.0C421.0,356.0 430.5,356.7 435.0,356.6C439.5,356.5 446.2,355.3 451.0,355.0C455.8,354.7 465.1,354.2 471.0,354.0C476.9,353.8 488.9,353.7 495.0,353.6C501.1,353.5 514.1,353.1 517.0,353.0" stroke="#dd1e1e" stroke-width="1.7"/>
</g>
<g fill="none" stroke-linejoin="round" stroke-linecap="butt">
<path d="M26.0,451.0C26.1,448.5 26.7,432.8 27.0,432.0C27.3,431.2 28.0,440.1 28.4,445.0C28.8,449.9 29.4,465.8 30.0,469.0C30.6,472.2 32.2,469.2 33.0,469.0C33.8,468.8 34.9,467.3 36.0,467.4C37.1,467.5 39.7,470.5 41.0,470.0C42.3,469.5 44.8,466.8 46.0,464.0C47.2,461.2 49.1,453.3 50.0,449.0C50.9,444.7 52.2,436.3 53.0,432.0C53.8,427.7 55.3,420.5 56.0,417.0C56.7,413.5 57.8,408.7 58.4,406.0C59.0,403.3 59.9,396.6 60.4,397.0C60.9,397.4 61.8,404.5 62.4,409.0C63.0,413.5 64.3,425.4 65.0,431.0C65.7,436.6 67.1,446.3 68.0,451.0C68.9,455.7 70.8,463.1 72.0,466.0C73.2,468.9 75.7,471.9 77.0,473.0C78.3,474.1 80.5,474.7 82.0,474.4C83.5,474.1 86.5,472.3 88.0,471.0C89.5,469.7 91.7,466.3 93.0,465.0C94.3,463.7 96.4,461.7 97.6,461.4C98.8,461.1 100.9,462.3 102.0,463.0C103.1,463.7 104.9,466.1 106.0,467.0C107.1,467.9 108.7,469.0 110.0,469.4C111.3,469.8 114.3,469.6 116.0,470.0C117.7,470.4 121.3,472.1 123.0,472.6C124.7,473.1 127.4,473.7 129.0,473.4C130.6,473.1 133.3,470.9 135.0,470.0C136.7,469.1 139.2,467.5 142.0,467.0C144.8,466.5 152.3,466.1 156.0,466.0C159.7,465.9 166.8,466.5 170.0,466.4C173.2,466.3 177.6,465.3 180.0,465.0C182.4,464.7 185.3,464.1 188.0,464.2C190.7,464.3 196.5,465.1 200.0,465.6C203.5,466.1 209.7,467.4 214.0,468.0C218.3,468.6 227.2,469.5 232.0,470.0C236.8,470.5 244.5,471.1 250.0,471.4C255.5,471.7 270.5,471.9 273.6,472.0" stroke="#e83a3a" stroke-width="0.8" stroke-dasharray="1.8 1.6"/>
<path d="M25.6,459.0C25.9,460.9 27.5,469.6 28.0,473.0C28.5,476.4 28.9,483.3 29.6,484.6C30.3,485.9 32.0,483.4 33.0,483.0C34.0,482.6 35.9,481.7 37.0,481.4C38.1,481.1 39.9,481.2 41.0,480.6C42.1,480.0 43.9,478.5 45.0,477.0C46.1,475.5 47.9,471.9 49.0,469.0C50.1,466.1 51.9,458.6 53.0,455.0C54.1,451.4 56.0,444.8 57.0,442.0C58.0,439.2 59.6,433.9 60.4,434.0C61.2,434.1 62.3,439.7 63.0,443.0C63.7,446.3 65.2,455.4 66.0,459.0C66.8,462.6 68.1,467.5 69.0,470.0C69.9,472.5 71.8,476.0 73.0,477.4C74.2,478.8 76.7,480.1 78.0,480.6C79.3,481.1 81.5,481.4 83.0,481.0C84.5,480.6 87.5,478.7 89.0,477.4C90.5,476.1 92.8,472.6 94.0,471.4C95.2,470.2 96.9,468.9 98.0,468.6C99.1,468.3 100.9,468.8 102.0,469.4C103.1,470.0 104.9,472.3 106.0,473.0C107.1,473.7 108.7,474.6 110.0,475.0C111.3,475.4 114.3,475.5 116.0,476.0C117.7,476.5 121.3,478.1 123.0,478.6C124.7,479.1 127.4,479.7 129.0,479.4C130.6,479.1 133.3,476.9 135.0,476.0C136.7,475.1 139.2,473.5 142.0,473.0C144.8,472.5 152.3,472.1 156.0,472.0C159.7,471.9 166.8,472.5 170.0,472.4C173.2,472.3 177.6,471.3 180.0,471.0C182.4,470.7 185.3,470.1 188.0,470.2C190.7,470.3 196.5,471.1 200.0,471.6C203.5,472.1 209.7,473.4 214.0,474.0C218.3,474.6 227.2,475.5 232.0,476.0C236.8,476.5 244.5,477.1 250.0,477.4C255.5,477.7 270.5,477.9 273.6,478.0" stroke="#e83a3a" stroke-width="0.8" stroke-dasharray="1.8 1.6"/>
<path d="M25.6,454.0C25.8,454.4 27.1,454.9 27.4,457.0C27.7,459.1 28.0,466.9 28.2,470.0C28.4,473.1 28.5,478.9 29.0,480.0C29.5,481.1 31.1,478.5 32.0,478.0C32.9,477.5 34.8,476.9 36.0,476.6C37.2,476.3 39.8,476.6 41.0,476.0C42.2,475.4 43.9,474.0 45.0,472.0C46.1,470.0 48.0,464.9 49.0,461.0C50.0,457.1 51.5,447.0 52.4,443.0C53.3,439.0 55.2,433.5 56.0,431.0C56.8,428.5 57.8,425.9 58.4,424.0C59.0,422.1 59.8,416.2 60.4,416.6C61.0,417.0 62.4,423.5 63.0,427.0C63.6,430.5 64.3,438.7 65.0,443.0C65.7,447.3 67.1,455.3 68.0,459.0C68.9,462.7 70.8,468.7 72.0,471.0C73.2,473.3 75.7,475.7 77.0,476.6C78.3,477.5 80.5,477.7 82.0,477.4C83.5,477.1 86.5,475.3 88.0,474.0C89.5,472.7 91.8,469.2 93.0,468.0C94.2,466.8 95.9,465.1 97.0,464.8C98.1,464.5 99.8,465.3 101.0,466.0C102.2,466.7 104.8,469.2 106.0,470.0C107.2,470.8 108.7,471.6 110.0,472.0C111.3,472.4 114.3,472.5 116.0,473.0C117.7,473.5 121.3,475.1 123.0,475.6C124.7,476.1 127.4,476.7 129.0,476.4C130.6,476.1 133.3,473.9 135.0,473.0C136.7,472.1 139.2,470.5 142.0,470.0C144.8,469.5 152.3,469.1 156.0,469.0C159.7,468.9 166.8,469.5 170.0,469.4C173.2,469.3 177.6,468.3 180.0,468.0C182.4,467.7 185.3,467.1 188.0,467.2C190.7,467.3 196.5,468.1 200.0,468.6C203.5,469.1 209.7,470.4 214.0,471.0C218.3,471.6 227.2,472.5 232.0,473.0C236.8,473.5 244.5,474.1 250.0,474.4C255.5,474.7 270.5,474.9 273.6,475.0" stroke="#dd1e1e" stroke-width="1.6"/>
</g>
<text x="110" y="120.4" font-family="'DejaVu Sans','Liberation Sans',sans-serif" font-weight="bold" font-size="8.2" fill="#111" textLength="82" lengthAdjust="spacingAndGlyphs">Frequency (Hz)</text>
<text x="374.4" y="99" font-family="'DejaVu Sans','Liberation Sans',sans-serif" font-weight="bold" font-size="8.2" fill="#111" textLength="82.6" lengthAdjust="spacingAndGlyphs">Frequency (Hz)</text>
<text x="115.6" y="386" font-family="'DejaVu Sans','Liberation Sans',sans-serif" font-weight="bold" font-size="8.2" fill="#111" textLength="81.5" lengthAdjust="spacingAndGlyphs">Frequency (Hz)</text>
<text x="401" y="367" font-family="'DejaVu Sans','Liberation Sans',sans-serif" font-weight="bold" font-size="8.2" fill="#111" textLength="82.4" lengthAdjust="spacingAndGlyphs">Frequency (Hz)</text>
<text x="107.6" y="505.6" font-family="'DejaVu Sans','Liberation Sans',sans-serif" font-weight="bold" font-size="8.2" fill="#111" textLength="81.5" lengthAdjust="spacingAndGlyphs">Frequency (Hz)</text>
<text transform="translate(12.5,56) rotate(-90) scale(1,1.17)" text-anchor="middle" font-family="'DejaVu Sans','Liberation Sans',sans-serif" font-weight="bold" font-size="5.9" fill="#111">HVSR</text>
<text transform="translate(272.1,56) rotate(-90) scale(1,1.17)" text-anchor="middle" font-family="'DejaVu Sans','Liberation Sans',sans-serif" font-weight="bold" font-size="5.9" fill="#111">HVSR</text>
<text transform="translate(14.5,176) rotate(-90) scale(1,1.17)" text-anchor="middle" font-family="'DejaVu Sans','Liberation Sans',sans-serif" font-weight="bold" font-size="5.9" fill="#111">HVSR</text>
<text transform="translate(19.700000000000003,317) rotate(-90) scale(1,1.17)" text-anchor="middle" font-family="'DejaVu Sans','Liberation Sans',sans-serif" font-weight="bold" font-size="5.9" fill="#111">HVSR</text>
<text transform="translate(282.70000000000005,316.2) rotate(-90) scale(1,1.17)" text-anchor="middle" font-family="'DejaVu Sans','Liberation Sans',sans-serif" font-weight="bold" font-size="5.9" fill="#111">HVSR</text>
<text transform="translate(14.5,441) rotate(-90) scale(1,1.17)" text-anchor="middle" font-family="'DejaVu Sans','Liberation Sans',sans-serif" font-weight="bold" font-size="5.9" fill="#111">HVSR</text>
<text x="26" y="18.6" font-family="'DejaVu Sans','Liberation Sans',sans-serif" font-size="16" fill="#111" textLength="25.6" lengthAdjust="spacingAndGlyphs">(a)</text>
<text x="40" y="275" font-family="'DejaVu Sans','Liberation Sans',sans-serif" font-size="16" fill="#111" textLength="25.4" lengthAdjust="spacingAndGlyphs">(b)</text>
<path d="M200.6,19.7H225.2" stroke="#dd1e1e" stroke-width="1.6"/>
<path d="M200.6,25.6H225.2M200.6,31.2H225.2" stroke="#e83a3a" stroke-width="0.9" stroke-dasharray="2.6 2.2"/>
<text transform="translate(227.6,21.7) scale(1.16,1)" font-family="'Liberation Serif','DejaVu Serif',serif" font-size="6.1" fill="#222">P8</text>
<text transform="translate(227.6,27.6) scale(1.16,1)" font-family="'Liberation Serif','DejaVu Serif',serif" font-size="6.1" fill="#2a2a2a">Min</text>
<text transform="translate(227.6,33.2) scale(1.16,1)" font-family="'Liberation Serif','DejaVu Serif',serif" font-size="6.1" fill="#2a2a2a">Max</text>
<path d="M478.3,16.9H504.5" stroke="#dd1e1e" stroke-width="1.6"/>
<path d="M478.3,24.9H504.5M478.3,32.2H504.5" stroke="#e83a3a" stroke-width="0.9" stroke-dasharray="2.6 2.2"/>
<text transform="translate(507.1,19.1) scale(1.16,1)" font-family="'Liberation Serif','DejaVu Serif',serif" font-size="6.7" fill="#222">P9</text>
<text transform="translate(507.1,27.1) scale(1.16,1)" font-family="'Liberation Serif','DejaVu Serif',serif" font-size="6.7" fill="#2a2a2a">Min</text>
<text transform="translate(507.1,34.4) scale(1.16,1)" font-family="'Liberation Serif','DejaVu Serif',serif" font-size="6.7" fill="#2a2a2a">Max</text>
<path d="M214.3,131.8H239.5" stroke="#dd1e1e" stroke-width="1.6"/>
<path d="M214.3,141.8H239.5M214.3,152.2H239.5" stroke="#e83a3a" stroke-width="0.9" stroke-dasharray="2.6 2.2"/>
<text transform="translate(242.1,133.9) scale(1.16,1)" font-family="'Liberation Serif','DejaVu Serif',serif" font-size="6.5" fill="#222">P26</text>
<text transform="translate(242.1,143.9) scale(1.16,1)" font-family="'Liberation Serif','DejaVu Serif',serif" font-size="6.5" fill="#2a2a2a">Min</text>
<text transform="translate(242.1,154.3) scale(1.16,1)" font-family="'Liberation Serif','DejaVu Serif',serif" font-size="6.5" fill="#2a2a2a">Max</text>
<path d="M210.5,270.5H233.5" stroke="#dd1e1e" stroke-width="1.2"/>
<path d="M210.5,276.6H233.5M210.5,282.5H233.5" stroke="#e83a3a" stroke-width="0.65" stroke-dasharray="2 1.6"/>
<text transform="translate(235.9,272.2) scale(1.45,1)" font-family="'DejaVu Sans','Liberation Sans',sans-serif" font-style="italic" font-weight="bold" font-size="4.8" fill="#222">P59</text>
<text transform="translate(235.9,278.2) scale(1.45,1)" font-family="'Liberation Serif','DejaVu Serif',serif" font-size="4.8" fill="#2a2a2a">Min</text>
<text transform="translate(235.9,284.1) scale(1.45,1)" font-family="'Liberation Serif','DejaVu Serif',serif" font-size="4.8" fill="#2a2a2a">Max</text>
<path d="M472.6,272H497" stroke="#dd1e1e" stroke-width="1.4"/>
<path d="M472.6,284H497M472.6,295.6H497" stroke="#e83a3a" stroke-width="0.8" stroke-dasharray="2 1.8"/>
<text transform="translate(500,273.9) scale(1.16,1)" font-family="'DejaVu Sans','Liberation Sans',sans-serif" font-style="italic" font-weight="bold" font-size="5.4" fill="#222">P37</text>
<text transform="translate(500,285.8) scale(1.16,1)" font-family="'Liberation Serif','DejaVu Serif',serif" font-size="5.6" fill="#2a2a2a">Min</text>
<text transform="translate(500,297.4) scale(1.16,1)" font-family="'Liberation Serif','DejaVu Serif',serif" font-size="5.6" fill="#2a2a2a">Max</text>
<path d="M232.4,395.9H250.7" stroke="#dd1e1e" stroke-width="1.4"/>
<path d="M232.4,402.9H250.7M232.4,410.3H250.7" stroke="#e83a3a" stroke-width="0.7" stroke-dasharray="1.9 1.7"/>
<text transform="translate(253.2,397.9) scale(1.16,1)" font-family="'DejaVu Sans','Liberation Sans',sans-serif" font-style="italic" font-weight="bold" font-size="5.6" fill="#222">P61</text>
<text transform="translate(253.2,404.4) scale(1.16,1)" font-family="'Liberation Serif','DejaVu Serif',serif" font-size="4.6" fill="#2a2a2a">Min</text>
<text transform="translate(253.2,411.8) scale(1.16,1)" font-family="'Liberation Serif','DejaVu Serif',serif" font-size="4.6" fill="#2a2a2a">Max</text>
</g>
</svg>
</body></html>
